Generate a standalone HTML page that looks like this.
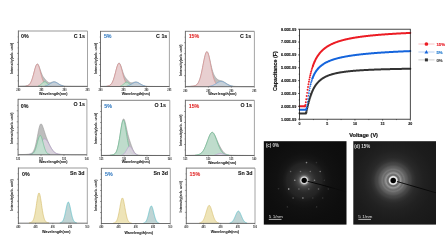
<!DOCTYPE html>
<html><head><meta charset="utf-8"><title>Figure</title>
<style>html,body{margin:0;padding:0;background:#fff;width:448px;height:252px;overflow:hidden}
svg{display:block;font-family:'Liberation Sans', Arial, sans-serif}</style></head>
<body><svg width="448" height="252" viewBox="0 0 448 252">
<rect width="448" height="252" fill="#fff"/>
<polygon points="18.90,86.4 18.90,86.23 19.47,86.22 20.04,86.20 20.62,86.19 21.19,86.18 21.76,86.16 22.33,86.15 22.91,86.13 23.48,86.10 24.05,86.08 24.62,86.04 25.19,86.00 25.77,85.94 26.34,85.86 26.91,85.75 27.48,85.59 28.06,85.36 28.63,85.03 29.20,84.59 29.77,83.98 30.35,83.18 30.92,82.15 31.49,80.88 32.06,79.34 32.63,77.55 33.21,75.54 33.78,73.39 34.35,71.18 34.92,69.03 35.50,67.10 36.07,65.51 36.64,64.42 37.21,63.92 37.78,64.05 38.36,64.76 38.93,65.96 39.50,67.50 40.07,69.22 40.65,70.96 41.22,72.61 41.79,74.09 42.36,75.35 42.94,76.41 43.51,77.28 44.08,78.04 44.65,78.74 45.22,79.41 45.80,80.07 46.37,80.71 46.94,81.30 47.51,81.81 48.09,82.22 48.66,82.50 49.23,82.65 49.80,82.69 50.37,82.63 50.95,82.49 51.52,82.31 52.09,82.11 52.66,81.94 53.24,81.81 53.81,81.74 54.38,81.75 54.95,81.85 55.53,82.02 56.10,82.27 56.67,82.57 57.24,82.91 57.81,83.28 58.39,83.65 58.96,84.01 59.53,84.36 60.10,84.68 60.68,84.97 61.25,85.22 61.82,85.43 62.39,85.62 62.96,85.76 63.54,85.88 64.11,85.98 64.68,86.05 65.25,86.11 65.83,86.15 66.40,86.19 66.97,86.21 67.54,86.23 68.12,86.25 68.69,86.26 69.26,86.27 69.83,86.28 70.40,86.29 70.98,86.29 71.55,86.30 72.12,86.30 72.69,86.31 73.27,86.31 73.84,86.31 74.41,86.32 74.98,86.32 75.55,86.32 76.13,86.33 76.70,86.33 77.27,86.33 77.84,86.33 78.42,86.34 78.99,86.34 79.56,86.34 80.13,86.34 80.71,86.34 81.28,86.35 81.85,86.35 82.42,86.35 82.99,86.35 83.57,86.35 84.14,86.35 84.71,86.36 85.28,86.36 85.86,86.36 86.43,86.36 87.00,86.36 87.00,86.4" fill="#bdbdbd"/>
<polyline points="18.90,86.23 19.47,86.22 20.04,86.20 20.62,86.19 21.19,86.18 21.76,86.16 22.33,86.15 22.91,86.13 23.48,86.10 24.05,86.08 24.62,86.04 25.19,86.00 25.77,85.94 26.34,85.86 26.91,85.75 27.48,85.59 28.06,85.36 28.63,85.03 29.20,84.59 29.77,83.98 30.35,83.18 30.92,82.15 31.49,80.88 32.06,79.34 32.63,77.55 33.21,75.54 33.78,73.39 34.35,71.18 34.92,69.03 35.50,67.10 36.07,65.51 36.64,64.42 37.21,63.92 37.78,64.05 38.36,64.76 38.93,65.96 39.50,67.50 40.07,69.22 40.65,70.96 41.22,72.61 41.79,74.09 42.36,75.35 42.94,76.41 43.51,77.28 44.08,78.04 44.65,78.74 45.22,79.41 45.80,80.07 46.37,80.71 46.94,81.30 47.51,81.81 48.09,82.22 48.66,82.50 49.23,82.65 49.80,82.69 50.37,82.63 50.95,82.49 51.52,82.31 52.09,82.11 52.66,81.94 53.24,81.81 53.81,81.74 54.38,81.75 54.95,81.85 55.53,82.02 56.10,82.27 56.67,82.57 57.24,82.91 57.81,83.28 58.39,83.65 58.96,84.01 59.53,84.36 60.10,84.68 60.68,84.97 61.25,85.22 61.82,85.43 62.39,85.62 62.96,85.76 63.54,85.88 64.11,85.98 64.68,86.05 65.25,86.11 65.83,86.15 66.40,86.19 66.97,86.21 67.54,86.23 68.12,86.25 68.69,86.26 69.26,86.27 69.83,86.28 70.40,86.29 70.98,86.29 71.55,86.30 72.12,86.30 72.69,86.31 73.27,86.31 73.84,86.31 74.41,86.32 74.98,86.32 75.55,86.32 76.13,86.33 76.70,86.33 77.27,86.33 77.84,86.33 78.42,86.34 78.99,86.34 79.56,86.34 80.13,86.34 80.71,86.34 81.28,86.35 81.85,86.35 82.42,86.35 82.99,86.35 83.57,86.35 84.14,86.35 84.71,86.36 85.28,86.36 85.86,86.36 86.43,86.36 87.00,86.36" fill="none" stroke="#9a9a9a" stroke-width="0.6"/>
<polygon points="25.60,86.4 25.60,86.00 25.90,85.97 26.20,85.93 26.49,85.88 26.79,85.82 27.09,85.75 27.38,85.67 27.68,85.56 27.97,85.44 28.27,85.30 28.57,85.13 28.86,84.92 29.16,84.68 29.45,84.40 29.75,84.07 30.05,83.68 30.34,83.25 30.64,82.75 30.93,82.19 31.23,81.56 31.53,80.86 31.82,80.09 32.12,79.25 32.41,78.34 32.71,77.37 33.01,76.35 33.30,75.28 33.60,74.17 33.90,73.04 34.19,71.90 34.49,70.77 34.78,69.66 35.08,68.61 35.38,67.62 35.67,66.72 35.97,65.93 36.26,65.27 36.56,64.75 36.86,64.40 37.15,64.22 37.45,64.22 37.74,64.40 38.04,64.75 38.34,65.27 38.63,65.93 38.93,66.72 39.22,67.62 39.52,68.61 39.82,69.66 40.11,70.77 40.41,71.90 40.70,73.04 41.00,74.17 41.30,75.28 41.59,76.35 41.89,77.37 42.19,78.34 42.48,79.25 42.78,80.09 43.07,80.86 43.37,81.56 43.67,82.19 43.96,82.75 44.26,83.25 44.55,83.68 44.85,84.07 45.15,84.40 45.44,84.68 45.74,84.92 46.03,85.13 46.33,85.30 46.63,85.44 46.92,85.56 47.22,85.67 47.51,85.75 47.81,85.82 48.11,85.88 48.40,85.93 48.70,85.97 49.00,86.00 49.00,86.4" fill="#f0d2d3" fill-opacity="0.85"/>
<polyline points="25.60,86.00 25.90,85.97 26.20,85.93 26.49,85.88 26.79,85.82 27.09,85.75 27.38,85.67 27.68,85.56 27.97,85.44 28.27,85.30 28.57,85.13 28.86,84.92 29.16,84.68 29.45,84.40 29.75,84.07 30.05,83.68 30.34,83.25 30.64,82.75 30.93,82.19 31.23,81.56 31.53,80.86 31.82,80.09 32.12,79.25 32.41,78.34 32.71,77.37 33.01,76.35 33.30,75.28 33.60,74.17 33.90,73.04 34.19,71.90 34.49,70.77 34.78,69.66 35.08,68.61 35.38,67.62 35.67,66.72 35.97,65.93 36.26,65.27 36.56,64.75 36.86,64.40 37.15,64.22 37.45,64.22 37.74,64.40 38.04,64.75 38.34,65.27 38.63,65.93 38.93,66.72 39.22,67.62 39.52,68.61 39.82,69.66 40.11,70.77 40.41,71.90 40.70,73.04 41.00,74.17 41.30,75.28 41.59,76.35 41.89,77.37 42.19,78.34 42.48,79.25 42.78,80.09 43.07,80.86 43.37,81.56 43.67,82.19 43.96,82.75 44.26,83.25 44.55,83.68 44.85,84.07 45.15,84.40 45.44,84.68 45.74,84.92 46.03,85.13 46.33,85.30 46.63,85.44 46.92,85.56 47.22,85.67 47.51,85.75 47.81,85.82 48.11,85.88 48.40,85.93 48.70,85.97 49.00,86.00" fill="none" stroke="#d98c8c" stroke-width="0.7"/>
<polygon points="38.06,86.4 38.06,86.00 38.23,85.95 38.39,85.90 38.56,85.85 38.72,85.79 38.89,85.72 39.05,85.65 39.22,85.58 39.39,85.49 39.55,85.40 39.72,85.31 39.88,85.20 40.05,85.09 40.21,84.97 40.38,84.85 40.54,84.72 40.71,84.58 40.88,84.44 41.04,84.29 41.21,84.14 41.37,83.98 41.54,83.82 41.70,83.66 41.87,83.50 42.03,83.34 42.20,83.17 42.37,83.01 42.53,82.85 42.70,82.70 42.86,82.55 43.03,82.41 43.19,82.28 43.36,82.16 43.52,82.05 43.69,81.96 43.86,81.87 44.02,81.81 44.19,81.75 44.35,81.72 44.52,81.70 44.68,81.70 44.85,81.72 45.01,81.75 45.18,81.81 45.34,81.87 45.51,81.96 45.68,82.05 45.84,82.16 46.01,82.28 46.17,82.41 46.34,82.55 46.50,82.70 46.67,82.85 46.83,83.01 47.00,83.17 47.17,83.34 47.33,83.50 47.50,83.66 47.66,83.82 47.83,83.98 47.99,84.14 48.16,84.29 48.32,84.44 48.49,84.58 48.66,84.72 48.82,84.85 48.99,84.97 49.15,85.09 49.32,85.20 49.48,85.31 49.65,85.40 49.81,85.49 49.98,85.58 50.15,85.65 50.31,85.72 50.48,85.79 50.64,85.85 50.81,85.90 50.97,85.95 51.14,86.00 51.14,86.4" fill="#c0e2cf" fill-opacity="0.85"/>
<polyline points="38.06,86.00 38.23,85.95 38.39,85.90 38.56,85.85 38.72,85.79 38.89,85.72 39.05,85.65 39.22,85.58 39.39,85.49 39.55,85.40 39.72,85.31 39.88,85.20 40.05,85.09 40.21,84.97 40.38,84.85 40.54,84.72 40.71,84.58 40.88,84.44 41.04,84.29 41.21,84.14 41.37,83.98 41.54,83.82 41.70,83.66 41.87,83.50 42.03,83.34 42.20,83.17 42.37,83.01 42.53,82.85 42.70,82.70 42.86,82.55 43.03,82.41 43.19,82.28 43.36,82.16 43.52,82.05 43.69,81.96 43.86,81.87 44.02,81.81 44.19,81.75 44.35,81.72 44.52,81.70 44.68,81.70 44.85,81.72 45.01,81.75 45.18,81.81 45.34,81.87 45.51,81.96 45.68,82.05 45.84,82.16 46.01,82.28 46.17,82.41 46.34,82.55 46.50,82.70 46.67,82.85 46.83,83.01 47.00,83.17 47.17,83.34 47.33,83.50 47.50,83.66 47.66,83.82 47.83,83.98 47.99,84.14 48.16,84.29 48.32,84.44 48.49,84.58 48.66,84.72 48.82,84.85 48.99,84.97 49.15,85.09 49.32,85.20 49.48,85.31 49.65,85.40 49.81,85.49 49.98,85.58 50.15,85.65 50.31,85.72 50.48,85.79 50.64,85.85 50.81,85.90 50.97,85.95 51.14,86.00" fill="none" stroke="#6cbf92" stroke-width="0.7"/>
<polygon points="44.77,86.4 44.77,86.00 45.01,85.95 45.25,85.91 45.49,85.85 45.73,85.80 45.97,85.73 46.21,85.66 46.44,85.59 46.68,85.51 46.92,85.42 47.16,85.33 47.40,85.23 47.64,85.13 47.88,85.02 48.11,84.90 48.35,84.78 48.59,84.65 48.83,84.52 49.07,84.38 49.31,84.24 49.55,84.09 49.79,83.95 50.02,83.80 50.26,83.65 50.50,83.49 50.74,83.34 50.98,83.20 51.22,83.05 51.46,82.91 51.69,82.78 51.93,82.65 52.17,82.53 52.41,82.42 52.65,82.32 52.89,82.23 53.13,82.16 53.36,82.10 53.60,82.05 53.84,82.02 54.08,82.00 54.32,82.00 54.56,82.02 54.80,82.05 55.04,82.10 55.27,82.16 55.51,82.23 55.75,82.32 55.99,82.42 56.23,82.53 56.47,82.65 56.71,82.78 56.94,82.91 57.18,83.05 57.42,83.20 57.66,83.34 57.90,83.49 58.14,83.65 58.38,83.80 58.61,83.95 58.85,84.09 59.09,84.24 59.33,84.38 59.57,84.52 59.81,84.65 60.05,84.78 60.29,84.90 60.52,85.02 60.76,85.13 61.00,85.23 61.24,85.33 61.48,85.42 61.72,85.51 61.96,85.59 62.19,85.66 62.43,85.73 62.67,85.80 62.91,85.85 63.15,85.91 63.39,85.95 63.63,86.00 63.63,86.4" fill="#c9d3dd" fill-opacity="0.85"/>
<polyline points="44.77,86.00 45.01,85.95 45.25,85.91 45.49,85.85 45.73,85.80 45.97,85.73 46.21,85.66 46.44,85.59 46.68,85.51 46.92,85.42 47.16,85.33 47.40,85.23 47.64,85.13 47.88,85.02 48.11,84.90 48.35,84.78 48.59,84.65 48.83,84.52 49.07,84.38 49.31,84.24 49.55,84.09 49.79,83.95 50.02,83.80 50.26,83.65 50.50,83.49 50.74,83.34 50.98,83.20 51.22,83.05 51.46,82.91 51.69,82.78 51.93,82.65 52.17,82.53 52.41,82.42 52.65,82.32 52.89,82.23 53.13,82.16 53.36,82.10 53.60,82.05 53.84,82.02 54.08,82.00 54.32,82.00 54.56,82.02 54.80,82.05 55.04,82.10 55.27,82.16 55.51,82.23 55.75,82.32 55.99,82.42 56.23,82.53 56.47,82.65 56.71,82.78 56.94,82.91 57.18,83.05 57.42,83.20 57.66,83.34 57.90,83.49 58.14,83.65 58.38,83.80 58.61,83.95 58.85,84.09 59.09,84.24 59.33,84.38 59.57,84.52 59.81,84.65 60.05,84.78 60.29,84.90 60.52,85.02 60.76,85.13 61.00,85.23 61.24,85.33 61.48,85.42 61.72,85.51 61.96,85.59 62.19,85.66 62.43,85.73 62.67,85.80 62.91,85.85 63.15,85.91 63.39,85.95 63.63,86.00" fill="none" stroke="#6a9fd0" stroke-width="0.7"/>
<line x1="18.4" y1="31.0" x2="87.5" y2="31.0" stroke="#9a9a9a" stroke-width="1.2"/>
<line x1="87.5" y1="31.0" x2="87.5" y2="86.4" stroke="#9a9a9a" stroke-width="0.9"/>
<line x1="18.4" y1="30.5" x2="18.4" y2="87.2" stroke="#555" stroke-width="0.85"/>
<line x1="18.4" y1="86.4" x2="87.5" y2="86.4" stroke="#555" stroke-width="0.85"/>
<line x1="17.60" y1="80.90" x2="18.4" y2="80.90" stroke="#555" stroke-width="0.55"/>
<line x1="17.00" y1="75.40" x2="18.4" y2="75.40" stroke="#555" stroke-width="0.55"/>
<line x1="17.60" y1="69.90" x2="18.4" y2="69.90" stroke="#555" stroke-width="0.55"/>
<line x1="17.00" y1="64.40" x2="18.4" y2="64.40" stroke="#555" stroke-width="0.55"/>
<line x1="17.60" y1="58.90" x2="18.4" y2="58.90" stroke="#555" stroke-width="0.55"/>
<line x1="17.00" y1="53.40" x2="18.4" y2="53.40" stroke="#555" stroke-width="0.55"/>
<line x1="17.60" y1="47.90" x2="18.4" y2="47.90" stroke="#555" stroke-width="0.55"/>
<line x1="17.00" y1="42.40" x2="18.4" y2="42.40" stroke="#555" stroke-width="0.55"/>
<line x1="17.60" y1="36.90" x2="18.4" y2="36.90" stroke="#555" stroke-width="0.55"/>
<line x1="18.40" y1="86.4" x2="18.40" y2="87.4" stroke="#444" stroke-width="0.5"/>
<text x="16.35" y="91.20" font-size="2.9" font-weight="bold" fill="#3a3a3a" textLength="4.1" lengthAdjust="spacingAndGlyphs">280</text>
<line x1="41.43" y1="86.4" x2="41.43" y2="87.4" stroke="#444" stroke-width="0.5"/>
<text x="39.38" y="91.20" font-size="2.9" font-weight="bold" fill="#3a3a3a" textLength="4.1" lengthAdjust="spacingAndGlyphs">285</text>
<line x1="64.47" y1="86.4" x2="64.47" y2="87.4" stroke="#444" stroke-width="0.5"/>
<text x="62.42" y="91.20" font-size="2.9" font-weight="bold" fill="#3a3a3a" textLength="4.1" lengthAdjust="spacingAndGlyphs">290</text>
<line x1="87.50" y1="86.4" x2="87.50" y2="87.4" stroke="#444" stroke-width="0.5"/>
<text x="85.45" y="91.20" font-size="2.9" font-weight="bold" fill="#3a3a3a" textLength="4.1" lengthAdjust="spacingAndGlyphs">295</text>
<text x="53.30" y="95.06" font-size="3.65" font-weight="bold" text-anchor="middle" fill="#1a1a1a" stroke="#1a1a1a" stroke-width="0.06" textLength="28.4" lengthAdjust="spacingAndGlyphs">Wavelength(nm)</text>
<text transform="translate(12.70,58.40) rotate(-90)" font-size="3.7" font-weight="bold" text-anchor="middle" fill="#262626" stroke="#262626" stroke-width="0.05" textLength="31.4" lengthAdjust="spacingAndGlyphs">Intensity(arb. unit)</text>
<text x="21.00" y="37.80" font-size="5.3" font-weight="bold" fill="#111" stroke="#111" stroke-width="0.06">0%</text>
<text x="85.00" y="37.80" font-size="5.3" font-weight="bold" text-anchor="end" fill="#111" stroke="#111" stroke-width="0.08">C 1s</text>
<polygon points="101.00,86.5 101.00,86.30 101.57,86.29 102.14,86.28 102.71,86.26 103.28,86.25 103.85,86.23 104.42,86.21 104.99,86.19 105.56,86.16 106.14,86.12 106.71,86.07 107.28,86.01 107.85,85.92 108.42,85.80 108.99,85.62 109.56,85.38 110.13,85.04 110.70,84.58 111.27,83.96 111.84,83.14 112.41,82.11 112.98,80.83 113.55,79.29 114.12,77.51 114.69,75.51 115.26,73.35 115.84,71.12 116.41,68.92 116.98,66.89 117.55,65.18 118.12,63.90 118.69,63.19 119.26,63.09 119.83,63.61 120.40,64.66 120.97,66.12 121.54,67.85 122.11,69.68 122.68,71.49 123.25,73.17 123.82,74.66 124.39,75.92 124.96,76.96 125.54,77.82 126.11,78.56 126.68,79.23 127.25,79.87 127.82,80.49 128.39,81.08 128.96,81.61 129.53,82.07 130.10,82.42 130.67,82.65 131.24,82.77 131.81,82.78 132.38,82.70 132.95,82.56 133.52,82.39 134.09,82.21 134.66,82.06 135.24,81.95 135.81,81.92 136.38,81.96 136.95,82.08 137.52,82.28 138.09,82.54 138.66,82.85 139.23,83.19 139.80,83.55 140.37,83.92 140.94,84.27 141.51,84.60 142.08,84.90 142.65,85.17 143.22,85.40 143.79,85.60 144.36,85.77 144.94,85.91 145.51,86.02 146.08,86.10 146.65,86.17 147.22,86.22 147.79,86.26 148.36,86.29 148.93,86.32 149.50,86.34 150.07,86.35 150.64,86.36 151.21,86.37 151.78,86.38 152.35,86.38 152.92,86.39 153.49,86.40 154.06,86.40 154.64,86.40 155.21,86.41 155.78,86.41 156.35,86.42 156.92,86.42 157.49,86.42 158.06,86.43 158.63,86.43 159.20,86.43 159.77,86.43 160.34,86.44 160.91,86.44 161.48,86.44 162.05,86.44 162.62,86.44 163.19,86.45 163.76,86.45 164.34,86.45 164.91,86.45 165.48,86.45 166.05,86.45 166.62,86.45 167.19,86.46 167.76,86.46 168.33,86.46 168.90,86.46 168.90,86.5" fill="#bdbdbd"/>
<polyline points="101.00,86.30 101.57,86.29 102.14,86.28 102.71,86.26 103.28,86.25 103.85,86.23 104.42,86.21 104.99,86.19 105.56,86.16 106.14,86.12 106.71,86.07 107.28,86.01 107.85,85.92 108.42,85.80 108.99,85.62 109.56,85.38 110.13,85.04 110.70,84.58 111.27,83.96 111.84,83.14 112.41,82.11 112.98,80.83 113.55,79.29 114.12,77.51 114.69,75.51 115.26,73.35 115.84,71.12 116.41,68.92 116.98,66.89 117.55,65.18 118.12,63.90 118.69,63.19 119.26,63.09 119.83,63.61 120.40,64.66 120.97,66.12 121.54,67.85 122.11,69.68 122.68,71.49 123.25,73.17 123.82,74.66 124.39,75.92 124.96,76.96 125.54,77.82 126.11,78.56 126.68,79.23 127.25,79.87 127.82,80.49 128.39,81.08 128.96,81.61 129.53,82.07 130.10,82.42 130.67,82.65 131.24,82.77 131.81,82.78 132.38,82.70 132.95,82.56 133.52,82.39 134.09,82.21 134.66,82.06 135.24,81.95 135.81,81.92 136.38,81.96 136.95,82.08 137.52,82.28 138.09,82.54 138.66,82.85 139.23,83.19 139.80,83.55 140.37,83.92 140.94,84.27 141.51,84.60 142.08,84.90 142.65,85.17 143.22,85.40 143.79,85.60 144.36,85.77 144.94,85.91 145.51,86.02 146.08,86.10 146.65,86.17 147.22,86.22 147.79,86.26 148.36,86.29 148.93,86.32 149.50,86.34 150.07,86.35 150.64,86.36 151.21,86.37 151.78,86.38 152.35,86.38 152.92,86.39 153.49,86.40 154.06,86.40 154.64,86.40 155.21,86.41 155.78,86.41 156.35,86.42 156.92,86.42 157.49,86.42 158.06,86.43 158.63,86.43 159.20,86.43 159.77,86.43 160.34,86.44 160.91,86.44 161.48,86.44 162.05,86.44 162.62,86.44 163.19,86.45 163.76,86.45 164.34,86.45 164.91,86.45 165.48,86.45 166.05,86.45 166.62,86.45 167.19,86.46 167.76,86.46 168.33,86.46 168.90,86.46" fill="none" stroke="#9a9a9a" stroke-width="0.6"/>
<polygon points="106.79,86.5 106.79,86.10 107.10,86.07 107.41,86.03 107.72,85.98 108.03,85.92 108.34,85.86 108.65,85.78 108.96,85.68 109.27,85.56 109.57,85.42 109.88,85.25 110.19,85.04 110.50,84.80 110.81,84.52 111.12,84.19 111.43,83.80 111.74,83.36 112.05,82.85 112.36,82.28 112.66,81.63 112.97,80.91 113.28,80.12 113.59,79.25 113.90,78.30 114.21,77.29 114.52,76.22 114.83,75.09 115.14,73.92 115.45,72.73 115.76,71.52 116.06,70.32 116.37,69.15 116.68,68.02 116.99,66.96 117.30,66.00 117.61,65.15 117.92,64.44 118.23,63.89 118.54,63.52 118.85,63.32 119.15,63.32 119.46,63.52 119.77,63.89 120.08,64.44 120.39,65.15 120.70,66.00 121.01,66.96 121.32,68.02 121.63,69.15 121.94,70.32 122.24,71.52 122.55,72.73 122.86,73.92 123.17,75.09 123.48,76.22 123.79,77.29 124.10,78.30 124.41,79.25 124.72,80.12 125.03,80.91 125.34,81.63 125.64,82.28 125.95,82.85 126.26,83.36 126.57,83.80 126.88,84.19 127.19,84.52 127.50,84.80 127.81,85.04 128.12,85.25 128.43,85.42 128.73,85.56 129.04,85.68 129.35,85.78 129.66,85.86 129.97,85.92 130.28,85.98 130.59,86.03 130.90,86.07 131.21,86.10 131.21,86.5" fill="#f0d2d3" fill-opacity="0.85"/>
<polyline points="106.79,86.10 107.10,86.07 107.41,86.03 107.72,85.98 108.03,85.92 108.34,85.86 108.65,85.78 108.96,85.68 109.27,85.56 109.57,85.42 109.88,85.25 110.19,85.04 110.50,84.80 110.81,84.52 111.12,84.19 111.43,83.80 111.74,83.36 112.05,82.85 112.36,82.28 112.66,81.63 112.97,80.91 113.28,80.12 113.59,79.25 113.90,78.30 114.21,77.29 114.52,76.22 114.83,75.09 115.14,73.92 115.45,72.73 115.76,71.52 116.06,70.32 116.37,69.15 116.68,68.02 116.99,66.96 117.30,66.00 117.61,65.15 117.92,64.44 118.23,63.89 118.54,63.52 118.85,63.32 119.15,63.32 119.46,63.52 119.77,63.89 120.08,64.44 120.39,65.15 120.70,66.00 121.01,66.96 121.32,68.02 121.63,69.15 121.94,70.32 122.24,71.52 122.55,72.73 122.86,73.92 123.17,75.09 123.48,76.22 123.79,77.29 124.10,78.30 124.41,79.25 124.72,80.12 125.03,80.91 125.34,81.63 125.64,82.28 125.95,82.85 126.26,83.36 126.57,83.80 126.88,84.19 127.19,84.52 127.50,84.80 127.81,85.04 128.12,85.25 128.43,85.42 128.73,85.56 129.04,85.68 129.35,85.78 129.66,85.86 129.97,85.92 130.28,85.98 130.59,86.03 130.90,86.07 131.21,86.10" fill="none" stroke="#d98c8c" stroke-width="0.7"/>
<polygon points="120.20,86.5 120.20,86.10 120.36,86.05 120.52,86.01 120.68,85.96 120.84,85.90 121.01,85.84 121.17,85.77 121.33,85.70 121.49,85.62 121.66,85.53 121.82,85.44 121.98,85.35 122.14,85.24 122.30,85.13 122.47,85.02 122.63,84.90 122.79,84.78 122.95,84.65 123.11,84.51 123.28,84.37 123.44,84.23 123.60,84.09 123.76,83.94 123.92,83.80 124.09,83.65 124.25,83.50 124.41,83.36 124.57,83.22 124.74,83.08 124.90,82.95 125.06,82.83 125.22,82.71 125.38,82.61 125.55,82.51 125.71,82.42 125.87,82.35 126.03,82.29 126.19,82.25 126.36,82.22 126.52,82.20 126.68,82.20 126.84,82.22 127.01,82.25 127.17,82.29 127.33,82.35 127.49,82.42 127.65,82.51 127.82,82.61 127.98,82.71 128.14,82.83 128.30,82.95 128.46,83.08 128.63,83.22 128.79,83.36 128.95,83.50 129.11,83.65 129.28,83.80 129.44,83.94 129.60,84.09 129.76,84.23 129.92,84.37 130.09,84.51 130.25,84.65 130.41,84.78 130.57,84.90 130.73,85.02 130.90,85.13 131.06,85.24 131.22,85.35 131.38,85.44 131.54,85.53 131.71,85.62 131.87,85.70 132.03,85.77 132.19,85.84 132.36,85.90 132.52,85.96 132.68,86.01 132.84,86.05 133.00,86.10 133.00,86.5" fill="#c0e2cf" fill-opacity="0.85"/>
<polyline points="120.20,86.10 120.36,86.05 120.52,86.01 120.68,85.96 120.84,85.90 121.01,85.84 121.17,85.77 121.33,85.70 121.49,85.62 121.66,85.53 121.82,85.44 121.98,85.35 122.14,85.24 122.30,85.13 122.47,85.02 122.63,84.90 122.79,84.78 122.95,84.65 123.11,84.51 123.28,84.37 123.44,84.23 123.60,84.09 123.76,83.94 123.92,83.80 124.09,83.65 124.25,83.50 124.41,83.36 124.57,83.22 124.74,83.08 124.90,82.95 125.06,82.83 125.22,82.71 125.38,82.61 125.55,82.51 125.71,82.42 125.87,82.35 126.03,82.29 126.19,82.25 126.36,82.22 126.52,82.20 126.68,82.20 126.84,82.22 127.01,82.25 127.17,82.29 127.33,82.35 127.49,82.42 127.65,82.51 127.82,82.61 127.98,82.71 128.14,82.83 128.30,82.95 128.46,83.08 128.63,83.22 128.79,83.36 128.95,83.50 129.11,83.65 129.28,83.80 129.44,83.94 129.60,84.09 129.76,84.23 129.92,84.37 130.09,84.51 130.25,84.65 130.41,84.78 130.57,84.90 130.73,85.02 130.90,85.13 131.06,85.24 131.22,85.35 131.38,85.44 131.54,85.53 131.71,85.62 131.87,85.70 132.03,85.77 132.19,85.84 132.36,85.90 132.52,85.96 132.68,86.01 132.84,86.05 133.00,86.10" fill="none" stroke="#6cbf92" stroke-width="0.7"/>
<polygon points="126.62,86.5 126.62,86.10 126.86,86.05 127.10,86.01 127.33,85.96 127.57,85.90 127.81,85.84 128.05,85.77 128.28,85.70 128.52,85.62 128.76,85.53 129.00,85.44 129.23,85.35 129.47,85.24 129.71,85.13 129.95,85.02 130.18,84.90 130.42,84.78 130.66,84.65 130.90,84.51 131.13,84.37 131.37,84.23 131.61,84.09 131.85,83.94 132.08,83.80 132.32,83.65 132.56,83.50 132.80,83.36 133.03,83.22 133.27,83.08 133.51,82.95 133.74,82.83 133.98,82.71 134.22,82.61 134.46,82.51 134.69,82.42 134.93,82.35 135.17,82.29 135.41,82.25 135.64,82.22 135.88,82.20 136.12,82.20 136.36,82.22 136.59,82.25 136.83,82.29 137.07,82.35 137.31,82.42 137.54,82.51 137.78,82.61 138.02,82.71 138.26,82.83 138.49,82.95 138.73,83.08 138.97,83.22 139.20,83.36 139.44,83.50 139.68,83.65 139.92,83.80 140.15,83.94 140.39,84.09 140.63,84.23 140.87,84.37 141.10,84.51 141.34,84.65 141.58,84.78 141.82,84.90 142.05,85.02 142.29,85.13 142.53,85.24 142.77,85.35 143.00,85.44 143.24,85.53 143.48,85.62 143.72,85.70 143.95,85.77 144.19,85.84 144.43,85.90 144.67,85.96 144.90,86.01 145.14,86.05 145.38,86.10 145.38,86.5" fill="#c9d3dd" fill-opacity="0.85"/>
<polyline points="126.62,86.10 126.86,86.05 127.10,86.01 127.33,85.96 127.57,85.90 127.81,85.84 128.05,85.77 128.28,85.70 128.52,85.62 128.76,85.53 129.00,85.44 129.23,85.35 129.47,85.24 129.71,85.13 129.95,85.02 130.18,84.90 130.42,84.78 130.66,84.65 130.90,84.51 131.13,84.37 131.37,84.23 131.61,84.09 131.85,83.94 132.08,83.80 132.32,83.65 132.56,83.50 132.80,83.36 133.03,83.22 133.27,83.08 133.51,82.95 133.74,82.83 133.98,82.71 134.22,82.61 134.46,82.51 134.69,82.42 134.93,82.35 135.17,82.29 135.41,82.25 135.64,82.22 135.88,82.20 136.12,82.20 136.36,82.22 136.59,82.25 136.83,82.29 137.07,82.35 137.31,82.42 137.54,82.51 137.78,82.61 138.02,82.71 138.26,82.83 138.49,82.95 138.73,83.08 138.97,83.22 139.20,83.36 139.44,83.50 139.68,83.65 139.92,83.80 140.15,83.94 140.39,84.09 140.63,84.23 140.87,84.37 141.10,84.51 141.34,84.65 141.58,84.78 141.82,84.90 142.05,85.02 142.29,85.13 142.53,85.24 142.77,85.35 143.00,85.44 143.24,85.53 143.48,85.62 143.72,85.70 143.95,85.77 144.19,85.84 144.43,85.90 144.67,85.96 144.90,86.01 145.14,86.05 145.38,86.10" fill="none" stroke="#6a9fd0" stroke-width="0.7"/>
<line x1="100.5" y1="31.4" x2="169.4" y2="31.4" stroke="#9a9a9a" stroke-width="1.2"/>
<line x1="169.4" y1="31.4" x2="169.4" y2="86.5" stroke="#9a9a9a" stroke-width="0.9"/>
<line x1="100.5" y1="30.9" x2="100.5" y2="87.3" stroke="#555" stroke-width="0.85"/>
<line x1="100.5" y1="86.5" x2="169.4" y2="86.5" stroke="#555" stroke-width="0.85"/>
<line x1="99.70" y1="81.00" x2="100.5" y2="81.00" stroke="#555" stroke-width="0.55"/>
<line x1="99.10" y1="75.50" x2="100.5" y2="75.50" stroke="#555" stroke-width="0.55"/>
<line x1="99.70" y1="70.00" x2="100.5" y2="70.00" stroke="#555" stroke-width="0.55"/>
<line x1="99.10" y1="64.50" x2="100.5" y2="64.50" stroke="#555" stroke-width="0.55"/>
<line x1="99.70" y1="59.00" x2="100.5" y2="59.00" stroke="#555" stroke-width="0.55"/>
<line x1="99.10" y1="53.50" x2="100.5" y2="53.50" stroke="#555" stroke-width="0.55"/>
<line x1="99.70" y1="48.00" x2="100.5" y2="48.00" stroke="#555" stroke-width="0.55"/>
<line x1="99.10" y1="42.50" x2="100.5" y2="42.50" stroke="#555" stroke-width="0.55"/>
<line x1="99.70" y1="37.00" x2="100.5" y2="37.00" stroke="#555" stroke-width="0.55"/>
<line x1="100.50" y1="86.5" x2="100.50" y2="87.5" stroke="#444" stroke-width="0.5"/>
<text x="98.45" y="91.30" font-size="2.9" font-weight="bold" fill="#3a3a3a" textLength="4.1" lengthAdjust="spacingAndGlyphs">280</text>
<line x1="123.47" y1="86.5" x2="123.47" y2="87.5" stroke="#444" stroke-width="0.5"/>
<text x="121.42" y="91.30" font-size="2.9" font-weight="bold" fill="#3a3a3a" textLength="4.1" lengthAdjust="spacingAndGlyphs">285</text>
<line x1="146.43" y1="86.5" x2="146.43" y2="87.5" stroke="#444" stroke-width="0.5"/>
<text x="144.38" y="91.30" font-size="2.9" font-weight="bold" fill="#3a3a3a" textLength="4.1" lengthAdjust="spacingAndGlyphs">290</text>
<line x1="169.40" y1="86.5" x2="169.40" y2="87.5" stroke="#444" stroke-width="0.5"/>
<text x="167.35" y="91.30" font-size="2.9" font-weight="bold" fill="#3a3a3a" textLength="4.1" lengthAdjust="spacingAndGlyphs">295</text>
<text x="135.90" y="95.21" font-size="3.65" font-weight="bold" text-anchor="middle" fill="#1a1a1a" stroke="#1a1a1a" stroke-width="0.06" textLength="28.4" lengthAdjust="spacingAndGlyphs">Wavelength(nm)</text>
<text transform="translate(96.70,58.40) rotate(-90)" font-size="3.7" font-weight="bold" text-anchor="middle" fill="#262626" stroke="#262626" stroke-width="0.05" textLength="31.4" lengthAdjust="spacingAndGlyphs">Intensity(arb. unit)</text>
<text x="103.90" y="38.00" font-size="5.3" font-weight="bold" fill="#2f78c0" stroke="#2f78c0" stroke-width="0.06">5%</text>
<text x="167.30" y="38.00" font-size="5.3" font-weight="bold" text-anchor="end" fill="#111" stroke="#111" stroke-width="0.08">C 1s</text>
<polygon points="185.90,86.7 185.90,86.43 186.47,86.42 187.04,86.41 187.61,86.39 188.19,86.37 188.76,86.35 189.33,86.33 189.90,86.31 190.47,86.28 191.04,86.25 191.61,86.21 192.19,86.17 192.76,86.11 193.33,86.04 193.90,85.94 194.47,85.81 195.04,85.64 195.61,85.40 196.19,85.08 196.76,84.65 197.33,84.08 197.90,83.34 198.47,82.38 199.04,81.19 199.61,79.72 200.19,77.95 200.76,75.88 201.33,73.52 201.90,70.89 202.47,68.06 203.04,65.10 203.61,62.13 204.19,59.27 204.76,56.67 205.33,54.47 205.90,52.83 206.47,51.85 207.04,51.62 207.61,52.14 208.19,53.36 208.76,55.17 209.33,57.42 209.90,59.94 210.47,62.56 211.04,65.15 211.61,67.58 212.19,69.77 212.76,71.68 213.33,73.29 213.90,74.63 214.47,75.75 215.04,76.69 215.61,77.49 216.19,78.18 216.76,78.77 217.33,79.27 217.90,79.67 218.47,79.98 219.04,80.21 219.61,80.38 220.19,80.51 220.76,80.63 221.33,80.77 221.90,80.93 222.47,81.14 223.04,81.40 223.61,81.70 224.19,82.03 224.76,82.39 225.33,82.76 225.90,83.15 226.47,83.52 227.04,83.89 227.61,84.24 228.19,84.56 228.76,84.86 229.33,85.12 229.90,85.36 230.47,85.56 231.04,85.74 231.61,85.89 232.19,86.01 232.76,86.11 233.33,86.20 233.90,86.27 234.47,86.32 235.04,86.37 235.61,86.40 236.19,86.43 236.76,86.45 237.33,86.47 237.90,86.49 238.47,86.50 239.04,86.51 239.61,86.52 240.19,86.53 240.76,86.54 241.33,86.55 241.90,86.55 242.47,86.56 243.04,86.56 243.61,86.57 244.19,86.57 244.76,86.58 245.33,86.58 245.90,86.59 246.47,86.59 247.04,86.59 247.61,86.60 248.19,86.60 248.76,86.60 249.33,86.61 249.90,86.61 250.47,86.61 251.04,86.61 251.61,86.62 252.19,86.62 252.76,86.62 253.33,86.62 253.90,86.63 253.90,86.7" fill="#bdbdbd"/>
<polyline points="185.90,86.43 186.47,86.42 187.04,86.41 187.61,86.39 188.19,86.37 188.76,86.35 189.33,86.33 189.90,86.31 190.47,86.28 191.04,86.25 191.61,86.21 192.19,86.17 192.76,86.11 193.33,86.04 193.90,85.94 194.47,85.81 195.04,85.64 195.61,85.40 196.19,85.08 196.76,84.65 197.33,84.08 197.90,83.34 198.47,82.38 199.04,81.19 199.61,79.72 200.19,77.95 200.76,75.88 201.33,73.52 201.90,70.89 202.47,68.06 203.04,65.10 203.61,62.13 204.19,59.27 204.76,56.67 205.33,54.47 205.90,52.83 206.47,51.85 207.04,51.62 207.61,52.14 208.19,53.36 208.76,55.17 209.33,57.42 209.90,59.94 210.47,62.56 211.04,65.15 211.61,67.58 212.19,69.77 212.76,71.68 213.33,73.29 213.90,74.63 214.47,75.75 215.04,76.69 215.61,77.49 216.19,78.18 216.76,78.77 217.33,79.27 217.90,79.67 218.47,79.98 219.04,80.21 219.61,80.38 220.19,80.51 220.76,80.63 221.33,80.77 221.90,80.93 222.47,81.14 223.04,81.40 223.61,81.70 224.19,82.03 224.76,82.39 225.33,82.76 225.90,83.15 226.47,83.52 227.04,83.89 227.61,84.24 228.19,84.56 228.76,84.86 229.33,85.12 229.90,85.36 230.47,85.56 231.04,85.74 231.61,85.89 232.19,86.01 232.76,86.11 233.33,86.20 233.90,86.27 234.47,86.32 235.04,86.37 235.61,86.40 236.19,86.43 236.76,86.45 237.33,86.47 237.90,86.49 238.47,86.50 239.04,86.51 239.61,86.52 240.19,86.53 240.76,86.54 241.33,86.55 241.90,86.55 242.47,86.56 243.04,86.56 243.61,86.57 244.19,86.57 244.76,86.58 245.33,86.58 245.90,86.59 246.47,86.59 247.04,86.59 247.61,86.60 248.19,86.60 248.76,86.60 249.33,86.61 249.90,86.61 250.47,86.61 251.04,86.61 251.61,86.62 252.19,86.62 252.76,86.62 253.33,86.62 253.90,86.63" fill="none" stroke="#9a9a9a" stroke-width="0.6"/>
<polygon points="190.61,86.7 190.61,86.30 191.02,86.28 191.43,86.25 191.85,86.22 192.26,86.19 192.67,86.15 193.08,86.10 193.50,86.04 193.91,85.97 194.32,85.88 194.73,85.77 195.15,85.64 195.56,85.47 195.97,85.25 196.38,84.99 196.80,84.66 197.21,84.26 197.62,83.77 198.03,83.18 198.45,82.48 198.86,81.65 199.27,80.69 199.68,79.58 200.10,78.31 200.51,76.88 200.92,75.30 201.33,73.56 201.74,71.69 202.16,69.71 202.57,67.63 202.98,65.50 203.39,63.35 203.81,61.24 204.22,59.21 204.63,57.32 205.04,55.62 205.46,54.18 205.87,53.04 206.28,52.25 206.69,51.85 207.11,51.85 207.52,52.25 207.93,53.04 208.34,54.18 208.76,55.62 209.17,57.32 209.58,59.21 209.99,61.24 210.41,63.35 210.82,65.50 211.23,67.63 211.64,69.71 212.06,71.69 212.47,73.56 212.88,75.30 213.29,76.88 213.70,78.31 214.12,79.58 214.53,80.69 214.94,81.65 215.35,82.48 215.77,83.18 216.18,83.77 216.59,84.26 217.00,84.66 217.42,84.99 217.83,85.25 218.24,85.47 218.65,85.64 219.07,85.77 219.48,85.88 219.89,85.97 220.30,86.04 220.72,86.10 221.13,86.15 221.54,86.19 221.95,86.22 222.37,86.25 222.78,86.28 223.19,86.30 223.19,86.7" fill="#f0d2d3" fill-opacity="0.85"/>
<polyline points="190.61,86.30 191.02,86.28 191.43,86.25 191.85,86.22 192.26,86.19 192.67,86.15 193.08,86.10 193.50,86.04 193.91,85.97 194.32,85.88 194.73,85.77 195.15,85.64 195.56,85.47 195.97,85.25 196.38,84.99 196.80,84.66 197.21,84.26 197.62,83.77 198.03,83.18 198.45,82.48 198.86,81.65 199.27,80.69 199.68,79.58 200.10,78.31 200.51,76.88 200.92,75.30 201.33,73.56 201.74,71.69 202.16,69.71 202.57,67.63 202.98,65.50 203.39,63.35 203.81,61.24 204.22,59.21 204.63,57.32 205.04,55.62 205.46,54.18 205.87,53.04 206.28,52.25 206.69,51.85 207.11,51.85 207.52,52.25 207.93,53.04 208.34,54.18 208.76,55.62 209.17,57.32 209.58,59.21 209.99,61.24 210.41,63.35 210.82,65.50 211.23,67.63 211.64,69.71 212.06,71.69 212.47,73.56 212.88,75.30 213.29,76.88 213.70,78.31 214.12,79.58 214.53,80.69 214.94,81.65 215.35,82.48 215.77,83.18 216.18,83.77 216.59,84.26 217.00,84.66 217.42,84.99 217.83,85.25 218.24,85.47 218.65,85.64 219.07,85.77 219.48,85.88 219.89,85.97 220.30,86.04 220.72,86.10 221.13,86.15 221.54,86.19 221.95,86.22 222.37,86.25 222.78,86.28 223.19,86.30" fill="none" stroke="#d98c8c" stroke-width="0.7"/>
<polygon points="209.30,86.7 209.30,86.30 209.60,86.25 209.90,86.20 210.20,86.15 210.50,86.08 210.80,86.02 211.10,85.94 211.40,85.86 211.69,85.77 211.99,85.67 212.29,85.57 212.59,85.45 212.89,85.33 213.19,85.20 213.49,85.06 213.78,84.92 214.08,84.76 214.38,84.60 214.68,84.44 214.98,84.26 215.28,84.08 215.58,83.90 215.87,83.71 216.17,83.52 216.47,83.33 216.77,83.14 217.07,82.95 217.37,82.77 217.67,82.59 217.96,82.42 218.26,82.25 218.56,82.09 218.86,81.95 219.16,81.82 219.46,81.71 219.76,81.61 220.05,81.53 220.35,81.47 220.65,81.42 220.95,81.40 221.25,81.40 221.55,81.42 221.85,81.47 222.15,81.53 222.44,81.61 222.74,81.71 223.04,81.82 223.34,81.95 223.64,82.09 223.94,82.25 224.24,82.42 224.53,82.59 224.83,82.77 225.13,82.95 225.43,83.14 225.73,83.33 226.03,83.52 226.33,83.71 226.62,83.90 226.92,84.08 227.22,84.26 227.52,84.44 227.82,84.60 228.12,84.76 228.42,84.92 228.71,85.06 229.01,85.20 229.31,85.33 229.61,85.45 229.91,85.57 230.21,85.67 230.51,85.77 230.80,85.86 231.10,85.94 231.40,86.02 231.70,86.08 232.00,86.15 232.30,86.20 232.60,86.25 232.90,86.30 232.90,86.7" fill="#c9d3dd" fill-opacity="0.85"/>
<polyline points="209.30,86.30 209.60,86.25 209.90,86.20 210.20,86.15 210.50,86.08 210.80,86.02 211.10,85.94 211.40,85.86 211.69,85.77 211.99,85.67 212.29,85.57 212.59,85.45 212.89,85.33 213.19,85.20 213.49,85.06 213.78,84.92 214.08,84.76 214.38,84.60 214.68,84.44 214.98,84.26 215.28,84.08 215.58,83.90 215.87,83.71 216.17,83.52 216.47,83.33 216.77,83.14 217.07,82.95 217.37,82.77 217.67,82.59 217.96,82.42 218.26,82.25 218.56,82.09 218.86,81.95 219.16,81.82 219.46,81.71 219.76,81.61 220.05,81.53 220.35,81.47 220.65,81.42 220.95,81.40 221.25,81.40 221.55,81.42 221.85,81.47 222.15,81.53 222.44,81.61 222.74,81.71 223.04,81.82 223.34,81.95 223.64,82.09 223.94,82.25 224.24,82.42 224.53,82.59 224.83,82.77 225.13,82.95 225.43,83.14 225.73,83.33 226.03,83.52 226.33,83.71 226.62,83.90 226.92,84.08 227.22,84.26 227.52,84.44 227.82,84.60 228.12,84.76 228.42,84.92 228.71,85.06 229.01,85.20 229.31,85.33 229.61,85.45 229.91,85.57 230.21,85.67 230.51,85.77 230.80,85.86 231.10,85.94 231.40,86.02 231.70,86.08 232.00,86.15 232.30,86.20 232.60,86.25 232.90,86.30" fill="none" stroke="#6a9fd0" stroke-width="0.7"/>
<line x1="185.4" y1="31.4" x2="254.4" y2="31.4" stroke="#9a9a9a" stroke-width="1.2"/>
<line x1="254.4" y1="31.4" x2="254.4" y2="86.7" stroke="#9a9a9a" stroke-width="0.9"/>
<line x1="185.4" y1="30.9" x2="185.4" y2="87.5" stroke="#555" stroke-width="0.85"/>
<line x1="185.4" y1="86.7" x2="254.4" y2="86.7" stroke="#555" stroke-width="0.85"/>
<line x1="184.60" y1="81.20" x2="185.4" y2="81.20" stroke="#555" stroke-width="0.55"/>
<line x1="184.00" y1="75.70" x2="185.4" y2="75.70" stroke="#555" stroke-width="0.55"/>
<line x1="184.60" y1="70.20" x2="185.4" y2="70.20" stroke="#555" stroke-width="0.55"/>
<line x1="184.00" y1="64.70" x2="185.4" y2="64.70" stroke="#555" stroke-width="0.55"/>
<line x1="184.60" y1="59.20" x2="185.4" y2="59.20" stroke="#555" stroke-width="0.55"/>
<line x1="184.00" y1="53.70" x2="185.4" y2="53.70" stroke="#555" stroke-width="0.55"/>
<line x1="184.60" y1="48.20" x2="185.4" y2="48.20" stroke="#555" stroke-width="0.55"/>
<line x1="184.00" y1="42.70" x2="185.4" y2="42.70" stroke="#555" stroke-width="0.55"/>
<line x1="184.60" y1="37.20" x2="185.4" y2="37.20" stroke="#555" stroke-width="0.55"/>
<line x1="185.40" y1="86.7" x2="185.40" y2="87.7" stroke="#444" stroke-width="0.5"/>
<text x="183.35" y="91.50" font-size="2.9" font-weight="bold" fill="#3a3a3a" textLength="4.1" lengthAdjust="spacingAndGlyphs">280</text>
<line x1="208.40" y1="86.7" x2="208.40" y2="87.7" stroke="#444" stroke-width="0.5"/>
<text x="206.35" y="91.50" font-size="2.9" font-weight="bold" fill="#3a3a3a" textLength="4.1" lengthAdjust="spacingAndGlyphs">285</text>
<line x1="231.40" y1="86.7" x2="231.40" y2="87.7" stroke="#444" stroke-width="0.5"/>
<text x="229.35" y="91.50" font-size="2.9" font-weight="bold" fill="#3a3a3a" textLength="4.1" lengthAdjust="spacingAndGlyphs">290</text>
<line x1="254.40" y1="86.7" x2="254.40" y2="87.7" stroke="#444" stroke-width="0.5"/>
<text x="252.35" y="91.50" font-size="2.9" font-weight="bold" fill="#3a3a3a" textLength="4.1" lengthAdjust="spacingAndGlyphs">295</text>
<text x="222.40" y="95.21" font-size="3.65" font-weight="bold" text-anchor="middle" fill="#1a1a1a" stroke="#1a1a1a" stroke-width="0.06" textLength="28.4" lengthAdjust="spacingAndGlyphs">Wavelength(nm)</text>
<text transform="translate(181.70,60.30) rotate(-90)" font-size="3.7" font-weight="bold" text-anchor="middle" fill="#262626" stroke="#262626" stroke-width="0.05" textLength="31.4" lengthAdjust="spacingAndGlyphs">Intensity(arb. unit)</text>
<text x="188.65" y="37.50" font-size="5.3" font-weight="bold" fill="#e02424" stroke="#e02424" stroke-width="0.06">15%</text>
<text x="251.10" y="38.35" font-size="5.3" font-weight="bold" text-anchor="end" fill="#111" stroke="#111" stroke-width="0.08">C 1s</text>
<polygon points="18.60,154.8 18.60,154.61 19.17,154.60 19.74,154.59 20.31,154.58 20.88,154.57 21.45,154.55 22.02,154.54 22.59,154.53 23.16,154.51 23.73,154.49 24.30,154.47 24.87,154.45 25.44,154.43 26.01,154.40 26.58,154.36 27.15,154.32 27.72,154.27 28.29,154.21 28.86,154.13 29.43,154.03 29.99,153.90 30.56,153.72 31.13,153.48 31.70,153.15 32.27,152.69 32.84,152.07 33.41,151.23 33.98,150.13 34.55,148.71 35.12,146.94 35.69,144.79 36.26,142.29 36.83,139.49 37.40,136.50 37.97,133.45 38.54,130.53 39.11,127.94 39.68,125.88 40.25,124.52 40.82,123.91 41.39,124.03 41.96,124.78 42.53,126.00 43.10,127.53 43.67,129.25 44.24,131.04 44.81,132.82 45.38,134.54 45.95,136.18 46.52,137.73 47.09,139.20 47.66,140.60 48.23,141.93 48.80,143.21 49.37,144.44 49.94,145.61 50.51,146.71 51.08,147.75 51.65,148.70 52.22,149.58 52.78,150.36 53.35,151.06 53.92,151.66 54.49,152.19 55.06,152.63 55.63,153.00 56.20,153.31 56.77,153.56 57.34,153.77 57.91,153.93 58.48,154.07 59.05,154.17 59.62,154.25 60.19,154.32 60.76,154.37 61.33,154.41 61.90,154.45 62.47,154.48 63.04,154.50 63.61,154.52 64.18,154.54 64.75,154.55 65.32,154.56 65.89,154.58 66.46,154.59 67.03,154.60 67.60,154.61 68.17,154.62 68.74,154.62 69.31,154.63 69.88,154.64 70.45,154.64 71.02,154.65 71.59,154.66 72.16,154.66 72.73,154.67 73.30,154.67 73.87,154.68 74.44,154.68 75.01,154.68 75.57,154.69 76.14,154.69 76.71,154.70 77.28,154.70 77.85,154.70 78.42,154.71 78.99,154.71 79.56,154.71 80.13,154.71 80.70,154.72 81.27,154.72 81.84,154.72 82.41,154.72 82.98,154.73 83.55,154.73 84.12,154.73 84.69,154.73 85.26,154.73 85.83,154.74 86.40,154.74 86.40,154.8" fill="#bdbdbd"/>
<polyline points="18.60,154.61 19.17,154.60 19.74,154.59 20.31,154.58 20.88,154.57 21.45,154.55 22.02,154.54 22.59,154.53 23.16,154.51 23.73,154.49 24.30,154.47 24.87,154.45 25.44,154.43 26.01,154.40 26.58,154.36 27.15,154.32 27.72,154.27 28.29,154.21 28.86,154.13 29.43,154.03 29.99,153.90 30.56,153.72 31.13,153.48 31.70,153.15 32.27,152.69 32.84,152.07 33.41,151.23 33.98,150.13 34.55,148.71 35.12,146.94 35.69,144.79 36.26,142.29 36.83,139.49 37.40,136.50 37.97,133.45 38.54,130.53 39.11,127.94 39.68,125.88 40.25,124.52 40.82,123.91 41.39,124.03 41.96,124.78 42.53,126.00 43.10,127.53 43.67,129.25 44.24,131.04 44.81,132.82 45.38,134.54 45.95,136.18 46.52,137.73 47.09,139.20 47.66,140.60 48.23,141.93 48.80,143.21 49.37,144.44 49.94,145.61 50.51,146.71 51.08,147.75 51.65,148.70 52.22,149.58 52.78,150.36 53.35,151.06 53.92,151.66 54.49,152.19 55.06,152.63 55.63,153.00 56.20,153.31 56.77,153.56 57.34,153.77 57.91,153.93 58.48,154.07 59.05,154.17 59.62,154.25 60.19,154.32 60.76,154.37 61.33,154.41 61.90,154.45 62.47,154.48 63.04,154.50 63.61,154.52 64.18,154.54 64.75,154.55 65.32,154.56 65.89,154.58 66.46,154.59 67.03,154.60 67.60,154.61 68.17,154.62 68.74,154.62 69.31,154.63 69.88,154.64 70.45,154.64 71.02,154.65 71.59,154.66 72.16,154.66 72.73,154.67 73.30,154.67 73.87,154.68 74.44,154.68 75.01,154.68 75.57,154.69 76.14,154.69 76.71,154.70 77.28,154.70 77.85,154.70 78.42,154.71 78.99,154.71 79.56,154.71 80.13,154.71 80.70,154.72 81.27,154.72 81.84,154.72 82.41,154.72 82.98,154.73 83.55,154.73 84.12,154.73 84.69,154.73 85.26,154.73 85.83,154.74 86.40,154.74" fill="none" stroke="#9a9a9a" stroke-width="0.6"/>
<polygon points="28.92,154.8 28.92,154.40 29.32,154.35 29.71,154.30 30.11,154.24 30.50,154.17 30.89,154.09 31.29,153.99 31.68,153.88 32.08,153.75 32.47,153.59 32.87,153.41 33.26,153.21 33.65,152.97 34.05,152.70 34.44,152.40 34.84,152.07 35.23,151.69 35.63,151.27 36.02,150.82 36.42,150.32 36.81,149.78 37.20,149.20 37.60,148.58 37.99,147.93 38.39,147.25 38.78,146.55 39.18,145.82 39.57,145.09 39.96,144.35 40.36,143.61 40.75,142.90 41.15,142.20 41.54,141.55 41.94,140.94 42.33,140.40 42.73,139.92 43.12,139.53 43.51,139.23 43.91,139.02 44.30,138.91 44.70,138.91 45.09,139.02 45.49,139.23 45.88,139.53 46.27,139.92 46.67,140.40 47.06,140.94 47.46,141.55 47.85,142.20 48.25,142.90 48.64,143.61 49.04,144.35 49.43,145.09 49.82,145.82 50.22,146.55 50.61,147.25 51.01,147.93 51.40,148.58 51.80,149.20 52.19,149.78 52.58,150.32 52.98,150.82 53.37,151.27 53.77,151.69 54.16,152.07 54.56,152.40 54.95,152.70 55.35,152.97 55.74,153.21 56.13,153.41 56.53,153.59 56.92,153.75 57.32,153.88 57.71,153.99 58.11,154.09 58.50,154.17 58.89,154.24 59.29,154.30 59.68,154.35 60.08,154.40 60.08,154.8" fill="#dcd6e0" fill-opacity="0.85"/>
<polyline points="28.92,154.40 29.32,154.35 29.71,154.30 30.11,154.24 30.50,154.17 30.89,154.09 31.29,153.99 31.68,153.88 32.08,153.75 32.47,153.59 32.87,153.41 33.26,153.21 33.65,152.97 34.05,152.70 34.44,152.40 34.84,152.07 35.23,151.69 35.63,151.27 36.02,150.82 36.42,150.32 36.81,149.78 37.20,149.20 37.60,148.58 37.99,147.93 38.39,147.25 38.78,146.55 39.18,145.82 39.57,145.09 39.96,144.35 40.36,143.61 40.75,142.90 41.15,142.20 41.54,141.55 41.94,140.94 42.33,140.40 42.73,139.92 43.12,139.53 43.51,139.23 43.91,139.02 44.30,138.91 44.70,138.91 45.09,139.02 45.49,139.23 45.88,139.53 46.27,139.92 46.67,140.40 47.06,140.94 47.46,141.55 47.85,142.20 48.25,142.90 48.64,143.61 49.04,144.35 49.43,145.09 49.82,145.82 50.22,146.55 50.61,147.25 51.01,147.93 51.40,148.58 51.80,149.20 52.19,149.78 52.58,150.32 52.98,150.82 53.37,151.27 53.77,151.69 54.16,152.07 54.56,152.40 54.95,152.70 55.35,152.97 55.74,153.21 56.13,153.41 56.53,153.59 56.92,153.75 57.32,153.88 57.71,153.99 58.11,154.09 58.50,154.17 58.89,154.24 59.29,154.30 59.68,154.35 60.08,154.40" fill="none" stroke="#b9a0d0" stroke-width="0.7"/>
<polygon points="30.35,154.8 30.35,154.40 30.60,154.36 30.85,154.31 31.10,154.26 31.35,154.19 31.60,154.11 31.85,154.02 32.09,153.91 32.34,153.78 32.59,153.63 32.84,153.45 33.09,153.24 33.34,152.99 33.59,152.71 33.84,152.38 34.09,152.01 34.34,151.59 34.59,151.13 34.84,150.60 35.09,150.02 35.34,149.39 35.59,148.70 35.84,147.96 36.09,147.17 36.33,146.33 36.58,145.45 36.83,144.54 37.08,143.61 37.33,142.67 37.58,141.72 37.83,140.79 38.08,139.89 38.33,139.03 38.58,138.23 38.83,137.51 39.08,136.87 39.33,136.35 39.58,135.94 39.83,135.66 40.08,135.52 40.32,135.52 40.57,135.66 40.82,135.94 41.07,136.35 41.32,136.87 41.57,137.51 41.82,138.23 42.07,139.03 42.32,139.89 42.57,140.79 42.82,141.72 43.07,142.67 43.32,143.61 43.57,144.54 43.82,145.45 44.07,146.33 44.31,147.17 44.56,147.96 44.81,148.70 45.06,149.39 45.31,150.02 45.56,150.60 45.81,151.13 46.06,151.59 46.31,152.01 46.56,152.38 46.81,152.71 47.06,152.99 47.31,153.24 47.56,153.45 47.81,153.63 48.06,153.78 48.31,153.91 48.55,154.02 48.80,154.11 49.05,154.19 49.30,154.26 49.55,154.31 49.80,154.36 50.05,154.40 50.05,154.8" fill="#c0e2cf" fill-opacity="0.85"/>
<polyline points="30.35,154.40 30.60,154.36 30.85,154.31 31.10,154.26 31.35,154.19 31.60,154.11 31.85,154.02 32.09,153.91 32.34,153.78 32.59,153.63 32.84,153.45 33.09,153.24 33.34,152.99 33.59,152.71 33.84,152.38 34.09,152.01 34.34,151.59 34.59,151.13 34.84,150.60 35.09,150.02 35.34,149.39 35.59,148.70 35.84,147.96 36.09,147.17 36.33,146.33 36.58,145.45 36.83,144.54 37.08,143.61 37.33,142.67 37.58,141.72 37.83,140.79 38.08,139.89 38.33,139.03 38.58,138.23 38.83,137.51 39.08,136.87 39.33,136.35 39.58,135.94 39.83,135.66 40.08,135.52 40.32,135.52 40.57,135.66 40.82,135.94 41.07,136.35 41.32,136.87 41.57,137.51 41.82,138.23 42.07,139.03 42.32,139.89 42.57,140.79 42.82,141.72 43.07,142.67 43.32,143.61 43.57,144.54 43.82,145.45 44.07,146.33 44.31,147.17 44.56,147.96 44.81,148.70 45.06,149.39 45.31,150.02 45.56,150.60 45.81,151.13 46.06,151.59 46.31,152.01 46.56,152.38 46.81,152.71 47.06,152.99 47.31,153.24 47.56,153.45 47.81,153.63 48.06,153.78 48.31,153.91 48.55,154.02 48.80,154.11 49.05,154.19 49.30,154.26 49.55,154.31 49.80,154.36 50.05,154.40" fill="none" stroke="#6cbf92" stroke-width="0.7"/>
<line x1="18.1" y1="99.4" x2="86.9" y2="99.4" stroke="#9a9a9a" stroke-width="1.2"/>
<line x1="86.9" y1="99.4" x2="86.9" y2="154.8" stroke="#9a9a9a" stroke-width="0.9"/>
<line x1="18.1" y1="98.9" x2="18.1" y2="155.60000000000002" stroke="#555" stroke-width="0.85"/>
<line x1="18.1" y1="154.8" x2="86.9" y2="154.8" stroke="#555" stroke-width="0.85"/>
<line x1="17.30" y1="149.30" x2="18.1" y2="149.30" stroke="#555" stroke-width="0.55"/>
<line x1="16.70" y1="143.80" x2="18.1" y2="143.80" stroke="#555" stroke-width="0.55"/>
<line x1="17.30" y1="138.30" x2="18.1" y2="138.30" stroke="#555" stroke-width="0.55"/>
<line x1="16.70" y1="132.80" x2="18.1" y2="132.80" stroke="#555" stroke-width="0.55"/>
<line x1="17.30" y1="127.30" x2="18.1" y2="127.30" stroke="#555" stroke-width="0.55"/>
<line x1="16.70" y1="121.80" x2="18.1" y2="121.80" stroke="#555" stroke-width="0.55"/>
<line x1="17.30" y1="116.30" x2="18.1" y2="116.30" stroke="#555" stroke-width="0.55"/>
<line x1="16.70" y1="110.80" x2="18.1" y2="110.80" stroke="#555" stroke-width="0.55"/>
<line x1="17.30" y1="105.30" x2="18.1" y2="105.30" stroke="#555" stroke-width="0.55"/>
<line x1="18.10" y1="154.8" x2="18.10" y2="155.8" stroke="#444" stroke-width="0.5"/>
<text x="16.05" y="159.60" font-size="2.9" font-weight="bold" fill="#3a3a3a" textLength="4.1" lengthAdjust="spacingAndGlyphs">525</text>
<line x1="41.03" y1="154.8" x2="41.03" y2="155.8" stroke="#444" stroke-width="0.5"/>
<text x="38.98" y="159.60" font-size="2.9" font-weight="bold" fill="#3a3a3a" textLength="4.1" lengthAdjust="spacingAndGlyphs">530</text>
<line x1="63.97" y1="154.8" x2="63.97" y2="155.8" stroke="#444" stroke-width="0.5"/>
<text x="61.92" y="159.60" font-size="2.9" font-weight="bold" fill="#3a3a3a" textLength="4.1" lengthAdjust="spacingAndGlyphs">535</text>
<line x1="86.90" y1="154.8" x2="86.90" y2="155.8" stroke="#444" stroke-width="0.5"/>
<text x="84.85" y="159.60" font-size="2.9" font-weight="bold" fill="#3a3a3a" textLength="4.1" lengthAdjust="spacingAndGlyphs">540</text>
<text x="53.20" y="163.21" font-size="3.65" font-weight="bold" text-anchor="middle" fill="#1a1a1a" stroke="#1a1a1a" stroke-width="0.06" textLength="28.4" lengthAdjust="spacingAndGlyphs">Wavelength(nm)</text>
<text transform="translate(12.70,128.30) rotate(-90)" font-size="3.7" font-weight="bold" text-anchor="middle" fill="#262626" stroke="#262626" stroke-width="0.05" textLength="31.4" lengthAdjust="spacingAndGlyphs">Intensity(arb. unit)</text>
<text x="20.70" y="108.00" font-size="5.3" font-weight="bold" fill="#111" stroke="#111" stroke-width="0.06">0%</text>
<text x="84.90" y="106.00" font-size="5.3" font-weight="bold" text-anchor="end" fill="#111" stroke="#111" stroke-width="0.08">O 1s</text>
<polygon points="101.90,155.5 101.90,155.32 102.47,155.31 103.03,155.30 103.60,155.29 104.17,155.28 104.73,155.27 105.30,155.25 105.86,155.24 106.43,155.22 107.00,155.20 107.56,155.18 108.13,155.16 108.70,155.13 109.26,155.11 109.83,155.07 110.40,155.04 110.96,154.99 111.53,154.93 112.09,154.86 112.66,154.75 113.23,154.61 113.79,154.40 114.36,154.09 114.93,153.65 115.49,153.02 116.06,152.15 116.63,150.96 117.19,149.40 117.76,147.41 118.33,144.96 118.89,142.05 119.46,138.75 120.02,135.15 120.59,131.42 121.16,127.77 121.72,124.44 122.29,121.71 122.86,119.82 123.42,118.92 123.99,119.08 124.56,120.19 125.12,122.06 125.69,124.43 126.25,127.05 126.82,129.71 127.39,132.25 127.95,134.59 128.52,136.71 129.09,138.64 129.65,140.44 130.22,142.17 130.79,143.84 131.35,145.46 131.92,147.00 132.48,148.44 133.05,149.74 133.62,150.89 134.18,151.87 134.75,152.69 135.32,153.34 135.88,153.84 136.45,154.22 137.02,154.50 137.58,154.70 138.15,154.84 138.72,154.94 139.28,155.01 139.85,155.07 140.41,155.11 140.98,155.14 141.55,155.17 142.11,155.19 142.68,155.21 143.25,155.23 143.81,155.25 144.38,155.26 144.95,155.27 145.51,155.29 146.08,155.30 146.64,155.31 147.21,155.32 147.78,155.33 148.34,155.33 148.91,155.34 149.48,155.35 150.04,155.36 150.61,155.36 151.18,155.37 151.74,155.37 152.31,155.38 152.87,155.38 153.44,155.39 154.01,155.39 154.57,155.40 155.14,155.40 155.71,155.40 156.27,155.41 156.84,155.41 157.41,155.41 157.97,155.42 158.54,155.42 159.11,155.42 159.67,155.42 160.24,155.43 160.80,155.43 161.37,155.43 161.94,155.43 162.50,155.44 163.07,155.44 163.64,155.44 164.20,155.44 164.77,155.44 165.34,155.44 165.90,155.45 166.47,155.45 167.03,155.45 167.60,155.45 168.17,155.45 168.73,155.45 169.30,155.45 169.30,155.5" fill="#bdbdbd"/>
<polyline points="101.90,155.32 102.47,155.31 103.03,155.30 103.60,155.29 104.17,155.28 104.73,155.27 105.30,155.25 105.86,155.24 106.43,155.22 107.00,155.20 107.56,155.18 108.13,155.16 108.70,155.13 109.26,155.11 109.83,155.07 110.40,155.04 110.96,154.99 111.53,154.93 112.09,154.86 112.66,154.75 113.23,154.61 113.79,154.40 114.36,154.09 114.93,153.65 115.49,153.02 116.06,152.15 116.63,150.96 117.19,149.40 117.76,147.41 118.33,144.96 118.89,142.05 119.46,138.75 120.02,135.15 120.59,131.42 121.16,127.77 121.72,124.44 122.29,121.71 122.86,119.82 123.42,118.92 123.99,119.08 124.56,120.19 125.12,122.06 125.69,124.43 126.25,127.05 126.82,129.71 127.39,132.25 127.95,134.59 128.52,136.71 129.09,138.64 129.65,140.44 130.22,142.17 130.79,143.84 131.35,145.46 131.92,147.00 132.48,148.44 133.05,149.74 133.62,150.89 134.18,151.87 134.75,152.69 135.32,153.34 135.88,153.84 136.45,154.22 137.02,154.50 137.58,154.70 138.15,154.84 138.72,154.94 139.28,155.01 139.85,155.07 140.41,155.11 140.98,155.14 141.55,155.17 142.11,155.19 142.68,155.21 143.25,155.23 143.81,155.25 144.38,155.26 144.95,155.27 145.51,155.29 146.08,155.30 146.64,155.31 147.21,155.32 147.78,155.33 148.34,155.33 148.91,155.34 149.48,155.35 150.04,155.36 150.61,155.36 151.18,155.37 151.74,155.37 152.31,155.38 152.87,155.38 153.44,155.39 154.01,155.39 154.57,155.40 155.14,155.40 155.71,155.40 156.27,155.41 156.84,155.41 157.41,155.41 157.97,155.42 158.54,155.42 159.11,155.42 159.67,155.42 160.24,155.43 160.80,155.43 161.37,155.43 161.94,155.43 162.50,155.44 163.07,155.44 163.64,155.44 164.20,155.44 164.77,155.44 165.34,155.44 165.90,155.45 166.47,155.45 167.03,155.45 167.60,155.45 168.17,155.45 168.73,155.45 169.30,155.45" fill="none" stroke="#9a9a9a" stroke-width="0.6"/>
<polygon points="110.13,155.5 110.13,155.10 110.46,155.08 110.80,155.05 111.13,155.02 111.47,154.99 111.81,154.95 112.14,154.91 112.48,154.85 112.81,154.78 113.15,154.69 113.49,154.58 113.82,154.45 114.16,154.28 114.49,154.07 114.83,153.81 115.17,153.49 115.50,153.09 115.84,152.61 116.18,152.02 116.51,151.32 116.85,150.50 117.18,149.53 117.52,148.42 117.86,147.14 118.19,145.70 118.53,144.11 118.86,142.35 119.20,140.46 119.54,138.45 119.87,136.34 120.21,134.18 120.54,131.99 120.88,129.84 121.22,127.77 121.55,125.84 121.89,124.10 122.22,122.63 122.56,121.47 122.90,120.66 123.23,120.25 123.57,120.25 123.90,120.66 124.24,121.47 124.58,122.63 124.91,124.10 125.25,125.84 125.58,127.77 125.92,129.84 126.26,131.99 126.59,134.18 126.93,136.34 127.26,138.45 127.60,140.46 127.94,142.35 128.27,144.11 128.61,145.70 128.94,147.14 129.28,148.42 129.62,149.53 129.95,150.50 130.29,151.32 130.62,152.02 130.96,152.61 131.30,153.09 131.63,153.49 131.97,153.81 132.31,154.07 132.64,154.28 132.98,154.45 133.31,154.58 133.65,154.69 133.99,154.78 134.32,154.85 134.66,154.91 134.99,154.95 135.33,154.99 135.67,155.02 136.00,155.05 136.34,155.08 136.67,155.10 136.67,155.5" fill="#c0e2cf" fill-opacity="0.85"/>
<polyline points="110.13,155.10 110.46,155.08 110.80,155.05 111.13,155.02 111.47,154.99 111.81,154.95 112.14,154.91 112.48,154.85 112.81,154.78 113.15,154.69 113.49,154.58 113.82,154.45 114.16,154.28 114.49,154.07 114.83,153.81 115.17,153.49 115.50,153.09 115.84,152.61 116.18,152.02 116.51,151.32 116.85,150.50 117.18,149.53 117.52,148.42 117.86,147.14 118.19,145.70 118.53,144.11 118.86,142.35 119.20,140.46 119.54,138.45 119.87,136.34 120.21,134.18 120.54,131.99 120.88,129.84 121.22,127.77 121.55,125.84 121.89,124.10 122.22,122.63 122.56,121.47 122.90,120.66 123.23,120.25 123.57,120.25 123.90,120.66 124.24,121.47 124.58,122.63 124.91,124.10 125.25,125.84 125.58,127.77 125.92,129.84 126.26,131.99 126.59,134.18 126.93,136.34 127.26,138.45 127.60,140.46 127.94,142.35 128.27,144.11 128.61,145.70 128.94,147.14 129.28,148.42 129.62,149.53 129.95,150.50 130.29,151.32 130.62,152.02 130.96,152.61 131.30,153.09 131.63,153.49 131.97,153.81 132.31,154.07 132.64,154.28 132.98,154.45 133.31,154.58 133.65,154.69 133.99,154.78 134.32,154.85 134.66,154.91 134.99,154.95 135.33,154.99 135.67,155.02 136.00,155.05 136.34,155.08 136.67,155.10" fill="none" stroke="#6cbf92" stroke-width="0.7"/>
<polygon points="121.41,155.5 121.41,155.10 121.61,155.05 121.82,154.99 122.03,154.93 122.24,154.86 122.44,154.78 122.65,154.68 122.86,154.58 123.07,154.46 123.27,154.33 123.48,154.18 123.69,154.02 123.90,153.84 124.10,153.64 124.31,153.42 124.52,153.19 124.73,152.94 124.93,152.67 125.14,152.38 125.35,152.07 125.55,151.75 125.76,151.42 125.97,151.07 126.18,150.71 126.38,150.34 126.59,149.97 126.80,149.59 127.01,149.22 127.21,148.85 127.42,148.49 127.63,148.15 127.84,147.82 128.04,147.51 128.25,147.23 128.46,146.98 128.67,146.76 128.87,146.58 129.08,146.45 129.29,146.35 129.50,146.31 129.70,146.31 129.91,146.35 130.12,146.45 130.33,146.58 130.53,146.76 130.74,146.98 130.95,147.23 131.16,147.51 131.36,147.82 131.57,148.15 131.78,148.49 131.99,148.85 132.19,149.22 132.40,149.59 132.61,149.97 132.82,150.34 133.02,150.71 133.23,151.07 133.44,151.42 133.65,151.75 133.85,152.07 134.06,152.38 134.27,152.67 134.47,152.94 134.68,153.19 134.89,153.42 135.10,153.64 135.30,153.84 135.51,154.02 135.72,154.18 135.93,154.33 136.13,154.46 136.34,154.58 136.55,154.68 136.76,154.78 136.96,154.86 137.17,154.93 137.38,154.99 137.59,155.05 137.79,155.10 137.79,155.5" fill="#dcd6e0" fill-opacity="0.85"/>
<polyline points="121.41,155.10 121.61,155.05 121.82,154.99 122.03,154.93 122.24,154.86 122.44,154.78 122.65,154.68 122.86,154.58 123.07,154.46 123.27,154.33 123.48,154.18 123.69,154.02 123.90,153.84 124.10,153.64 124.31,153.42 124.52,153.19 124.73,152.94 124.93,152.67 125.14,152.38 125.35,152.07 125.55,151.75 125.76,151.42 125.97,151.07 126.18,150.71 126.38,150.34 126.59,149.97 126.80,149.59 127.01,149.22 127.21,148.85 127.42,148.49 127.63,148.15 127.84,147.82 128.04,147.51 128.25,147.23 128.46,146.98 128.67,146.76 128.87,146.58 129.08,146.45 129.29,146.35 129.50,146.31 129.70,146.31 129.91,146.35 130.12,146.45 130.33,146.58 130.53,146.76 130.74,146.98 130.95,147.23 131.16,147.51 131.36,147.82 131.57,148.15 131.78,148.49 131.99,148.85 132.19,149.22 132.40,149.59 132.61,149.97 132.82,150.34 133.02,150.71 133.23,151.07 133.44,151.42 133.65,151.75 133.85,152.07 134.06,152.38 134.27,152.67 134.47,152.94 134.68,153.19 134.89,153.42 135.10,153.64 135.30,153.84 135.51,154.02 135.72,154.18 135.93,154.33 136.13,154.46 136.34,154.58 136.55,154.68 136.76,154.78 136.96,154.86 137.17,154.93 137.38,154.99 137.59,155.05 137.79,155.10" fill="none" stroke="#b9a0d0" stroke-width="0.7"/>
<line x1="101.4" y1="100.3" x2="169.8" y2="100.3" stroke="#9a9a9a" stroke-width="1.2"/>
<line x1="169.8" y1="100.3" x2="169.8" y2="155.5" stroke="#9a9a9a" stroke-width="0.9"/>
<line x1="101.4" y1="99.8" x2="101.4" y2="156.3" stroke="#555" stroke-width="0.85"/>
<line x1="101.4" y1="155.5" x2="169.8" y2="155.5" stroke="#555" stroke-width="0.85"/>
<line x1="100.60" y1="150.00" x2="101.4" y2="150.00" stroke="#555" stroke-width="0.55"/>
<line x1="100.00" y1="144.50" x2="101.4" y2="144.50" stroke="#555" stroke-width="0.55"/>
<line x1="100.60" y1="139.00" x2="101.4" y2="139.00" stroke="#555" stroke-width="0.55"/>
<line x1="100.00" y1="133.50" x2="101.4" y2="133.50" stroke="#555" stroke-width="0.55"/>
<line x1="100.60" y1="128.00" x2="101.4" y2="128.00" stroke="#555" stroke-width="0.55"/>
<line x1="100.00" y1="122.50" x2="101.4" y2="122.50" stroke="#555" stroke-width="0.55"/>
<line x1="100.60" y1="117.00" x2="101.4" y2="117.00" stroke="#555" stroke-width="0.55"/>
<line x1="100.00" y1="111.50" x2="101.4" y2="111.50" stroke="#555" stroke-width="0.55"/>
<line x1="100.60" y1="106.00" x2="101.4" y2="106.00" stroke="#555" stroke-width="0.55"/>
<line x1="101.40" y1="155.5" x2="101.40" y2="156.5" stroke="#444" stroke-width="0.5"/>
<text x="99.35" y="160.30" font-size="2.9" font-weight="bold" fill="#3a3a3a" textLength="4.1" lengthAdjust="spacingAndGlyphs">525</text>
<line x1="124.20" y1="155.5" x2="124.20" y2="156.5" stroke="#444" stroke-width="0.5"/>
<text x="122.15" y="160.30" font-size="2.9" font-weight="bold" fill="#3a3a3a" textLength="4.1" lengthAdjust="spacingAndGlyphs">530</text>
<line x1="147.00" y1="155.5" x2="147.00" y2="156.5" stroke="#444" stroke-width="0.5"/>
<text x="144.95" y="160.30" font-size="2.9" font-weight="bold" fill="#3a3a3a" textLength="4.1" lengthAdjust="spacingAndGlyphs">535</text>
<line x1="169.80" y1="155.5" x2="169.80" y2="156.5" stroke="#444" stroke-width="0.5"/>
<text x="167.75" y="160.30" font-size="2.9" font-weight="bold" fill="#3a3a3a" textLength="4.1" lengthAdjust="spacingAndGlyphs">540</text>
<text x="135.90" y="163.21" font-size="3.65" font-weight="bold" text-anchor="middle" fill="#1a1a1a" stroke="#1a1a1a" stroke-width="0.06" textLength="28.4" lengthAdjust="spacingAndGlyphs">Wavelength(nm)</text>
<text transform="translate(96.70,128.50) rotate(-90)" font-size="3.7" font-weight="bold" text-anchor="middle" fill="#262626" stroke="#262626" stroke-width="0.05" textLength="31.4" lengthAdjust="spacingAndGlyphs">Intensity(arb. unit)</text>
<text x="104.30" y="108.00" font-size="5.3" font-weight="bold" fill="#2f78c0" stroke="#2f78c0" stroke-width="0.06">5%</text>
<text x="166.00" y="107.30" font-size="5.3" font-weight="bold" text-anchor="end" fill="#111" stroke="#111" stroke-width="0.08">O 1s</text>
<polygon points="185.90,155.5 185.90,155.34 186.47,155.33 187.04,155.32 187.61,155.32 188.19,155.31 188.76,155.30 189.33,155.29 189.90,155.28 190.47,155.27 191.04,155.25 191.61,155.24 192.19,155.22 192.76,155.21 193.33,155.19 193.90,155.16 194.47,155.13 195.04,155.10 195.61,155.06 196.19,155.00 196.76,154.93 197.33,154.84 197.90,154.73 198.47,154.58 199.04,154.40 199.61,154.16 200.19,153.87 200.76,153.50 201.33,153.05 201.90,152.50 202.47,151.85 203.04,151.08 203.61,150.18 204.19,149.15 204.76,147.99 205.33,146.70 205.90,145.31 206.47,143.82 207.04,142.27 207.61,140.68 208.19,139.10 208.76,137.57 209.33,136.15 209.90,134.88 210.47,133.82 211.04,133.01 211.61,132.49 212.19,132.29 212.76,132.40 213.33,132.83 213.90,133.53 214.47,134.47 215.04,135.60 215.61,136.86 216.19,138.19 216.76,139.57 217.33,140.93 217.90,142.27 218.47,143.55 219.04,144.77 219.61,145.93 220.19,147.02 220.76,148.05 221.33,149.02 221.90,149.93 222.47,150.76 223.04,151.52 223.61,152.19 224.19,152.78 224.76,153.28 225.33,153.71 225.90,154.05 226.47,154.33 227.04,154.55 227.61,154.72 228.19,154.84 228.76,154.94 229.33,155.02 229.90,155.07 230.47,155.11 231.04,155.15 231.61,155.17 232.19,155.20 232.76,155.22 233.33,155.23 233.90,155.25 234.47,155.26 235.04,155.27 235.61,155.28 236.19,155.29 236.76,155.30 237.33,155.31 237.90,155.32 238.47,155.33 239.04,155.33 239.61,155.34 240.19,155.35 240.76,155.35 241.33,155.36 241.90,155.36 242.47,155.37 243.04,155.37 243.61,155.38 244.19,155.38 244.76,155.39 245.33,155.39 245.90,155.39 246.47,155.40 247.04,155.40 247.61,155.40 248.19,155.41 248.76,155.41 249.33,155.41 249.90,155.42 250.47,155.42 251.04,155.42 251.61,155.42 252.19,155.42 252.76,155.43 253.33,155.43 253.90,155.43 253.90,155.5" fill="#bdbdbd"/>
<polyline points="185.90,155.34 186.47,155.33 187.04,155.32 187.61,155.32 188.19,155.31 188.76,155.30 189.33,155.29 189.90,155.28 190.47,155.27 191.04,155.25 191.61,155.24 192.19,155.22 192.76,155.21 193.33,155.19 193.90,155.16 194.47,155.13 195.04,155.10 195.61,155.06 196.19,155.00 196.76,154.93 197.33,154.84 197.90,154.73 198.47,154.58 199.04,154.40 199.61,154.16 200.19,153.87 200.76,153.50 201.33,153.05 201.90,152.50 202.47,151.85 203.04,151.08 203.61,150.18 204.19,149.15 204.76,147.99 205.33,146.70 205.90,145.31 206.47,143.82 207.04,142.27 207.61,140.68 208.19,139.10 208.76,137.57 209.33,136.15 209.90,134.88 210.47,133.82 211.04,133.01 211.61,132.49 212.19,132.29 212.76,132.40 213.33,132.83 213.90,133.53 214.47,134.47 215.04,135.60 215.61,136.86 216.19,138.19 216.76,139.57 217.33,140.93 217.90,142.27 218.47,143.55 219.04,144.77 219.61,145.93 220.19,147.02 220.76,148.05 221.33,149.02 221.90,149.93 222.47,150.76 223.04,151.52 223.61,152.19 224.19,152.78 224.76,153.28 225.33,153.71 225.90,154.05 226.47,154.33 227.04,154.55 227.61,154.72 228.19,154.84 228.76,154.94 229.33,155.02 229.90,155.07 230.47,155.11 231.04,155.15 231.61,155.17 232.19,155.20 232.76,155.22 233.33,155.23 233.90,155.25 234.47,155.26 235.04,155.27 235.61,155.28 236.19,155.29 236.76,155.30 237.33,155.31 237.90,155.32 238.47,155.33 239.04,155.33 239.61,155.34 240.19,155.35 240.76,155.35 241.33,155.36 241.90,155.36 242.47,155.37 243.04,155.37 243.61,155.38 244.19,155.38 244.76,155.39 245.33,155.39 245.90,155.39 246.47,155.40 247.04,155.40 247.61,155.40 248.19,155.41 248.76,155.41 249.33,155.41 249.90,155.42 250.47,155.42 251.04,155.42 251.61,155.42 252.19,155.42 252.76,155.43 253.33,155.43 253.90,155.43" fill="none" stroke="#9a9a9a" stroke-width="0.6"/>
<polygon points="195.17,155.5 195.17,155.10 195.60,155.06 196.03,155.02 196.46,154.98 196.89,154.92 197.32,154.85 197.76,154.77 198.19,154.67 198.62,154.55 199.05,154.40 199.48,154.23 199.91,154.03 200.34,153.79 200.77,153.50 201.21,153.17 201.64,152.78 202.07,152.34 202.50,151.83 202.93,151.25 203.36,150.61 203.79,149.89 204.22,149.09 204.65,148.22 205.09,147.28 205.52,146.27 205.95,145.21 206.38,144.09 206.81,142.93 207.24,141.74 207.67,140.54 208.10,139.35 208.54,138.19 208.97,137.07 209.40,136.02 209.83,135.07 210.26,134.23 210.69,133.53 211.12,132.99 211.55,132.61 211.98,132.42 212.42,132.42 212.85,132.61 213.28,132.99 213.71,133.53 214.14,134.23 214.57,135.07 215.00,136.02 215.43,137.07 215.86,138.19 216.30,139.35 216.73,140.54 217.16,141.74 217.59,142.93 218.02,144.09 218.45,145.21 218.88,146.27 219.31,147.28 219.75,148.22 220.18,149.09 220.61,149.89 221.04,150.61 221.47,151.25 221.90,151.83 222.33,152.34 222.76,152.78 223.19,153.17 223.63,153.50 224.06,153.79 224.49,154.03 224.92,154.23 225.35,154.40 225.78,154.55 226.21,154.67 226.64,154.77 227.08,154.85 227.51,154.92 227.94,154.98 228.37,155.02 228.80,155.06 229.23,155.10 229.23,155.5" fill="#c0e2cf" fill-opacity="0.85"/>
<polyline points="195.17,155.10 195.60,155.06 196.03,155.02 196.46,154.98 196.89,154.92 197.32,154.85 197.76,154.77 198.19,154.67 198.62,154.55 199.05,154.40 199.48,154.23 199.91,154.03 200.34,153.79 200.77,153.50 201.21,153.17 201.64,152.78 202.07,152.34 202.50,151.83 202.93,151.25 203.36,150.61 203.79,149.89 204.22,149.09 204.65,148.22 205.09,147.28 205.52,146.27 205.95,145.21 206.38,144.09 206.81,142.93 207.24,141.74 207.67,140.54 208.10,139.35 208.54,138.19 208.97,137.07 209.40,136.02 209.83,135.07 210.26,134.23 210.69,133.53 211.12,132.99 211.55,132.61 211.98,132.42 212.42,132.42 212.85,132.61 213.28,132.99 213.71,133.53 214.14,134.23 214.57,135.07 215.00,136.02 215.43,137.07 215.86,138.19 216.30,139.35 216.73,140.54 217.16,141.74 217.59,142.93 218.02,144.09 218.45,145.21 218.88,146.27 219.31,147.28 219.75,148.22 220.18,149.09 220.61,149.89 221.04,150.61 221.47,151.25 221.90,151.83 222.33,152.34 222.76,152.78 223.19,153.17 223.63,153.50 224.06,153.79 224.49,154.03 224.92,154.23 225.35,154.40 225.78,154.55 226.21,154.67 226.64,154.77 227.08,154.85 227.51,154.92 227.94,154.98 228.37,155.02 228.80,155.06 229.23,155.10" fill="none" stroke="#6cbf92" stroke-width="0.7"/>
<polygon points="214.53,155.5 214.53,155.10 214.68,155.07 214.83,155.03 214.98,155.00 215.13,154.96 215.28,154.92 215.43,154.88 215.58,154.83 215.74,154.79 215.89,154.74 216.04,154.69 216.19,154.64 216.34,154.59 216.49,154.54 216.64,154.48 216.79,154.43 216.95,154.37 217.10,154.31 217.25,154.25 217.40,154.20 217.55,154.14 217.70,154.08 217.85,154.02 218.00,153.96 218.16,153.91 218.31,153.85 218.46,153.80 218.61,153.75 218.76,153.70 218.91,153.65 219.06,153.61 219.21,153.57 219.37,153.53 219.52,153.50 219.67,153.47 219.82,153.45 219.97,153.43 220.12,153.42 220.27,153.41 220.42,153.40 220.58,153.40 220.73,153.41 220.88,153.42 221.03,153.43 221.18,153.45 221.33,153.47 221.48,153.50 221.63,153.53 221.79,153.57 221.94,153.61 222.09,153.65 222.24,153.70 222.39,153.75 222.54,153.80 222.69,153.85 222.84,153.91 223.00,153.96 223.15,154.02 223.30,154.08 223.45,154.14 223.60,154.20 223.75,154.25 223.90,154.31 224.05,154.37 224.21,154.43 224.36,154.48 224.51,154.54 224.66,154.59 224.81,154.64 224.96,154.69 225.11,154.74 225.26,154.79 225.42,154.83 225.57,154.88 225.72,154.92 225.87,154.96 226.02,155.00 226.17,155.03 226.32,155.07 226.47,155.10 226.47,155.5" fill="#dcd6e0" fill-opacity="0.85"/>
<polyline points="214.53,155.10 214.68,155.07 214.83,155.03 214.98,155.00 215.13,154.96 215.28,154.92 215.43,154.88 215.58,154.83 215.74,154.79 215.89,154.74 216.04,154.69 216.19,154.64 216.34,154.59 216.49,154.54 216.64,154.48 216.79,154.43 216.95,154.37 217.10,154.31 217.25,154.25 217.40,154.20 217.55,154.14 217.70,154.08 217.85,154.02 218.00,153.96 218.16,153.91 218.31,153.85 218.46,153.80 218.61,153.75 218.76,153.70 218.91,153.65 219.06,153.61 219.21,153.57 219.37,153.53 219.52,153.50 219.67,153.47 219.82,153.45 219.97,153.43 220.12,153.42 220.27,153.41 220.42,153.40 220.58,153.40 220.73,153.41 220.88,153.42 221.03,153.43 221.18,153.45 221.33,153.47 221.48,153.50 221.63,153.53 221.79,153.57 221.94,153.61 222.09,153.65 222.24,153.70 222.39,153.75 222.54,153.80 222.69,153.85 222.84,153.91 223.00,153.96 223.15,154.02 223.30,154.08 223.45,154.14 223.60,154.20 223.75,154.25 223.90,154.31 224.05,154.37 224.21,154.43 224.36,154.48 224.51,154.54 224.66,154.59 224.81,154.64 224.96,154.69 225.11,154.74 225.26,154.79 225.42,154.83 225.57,154.88 225.72,154.92 225.87,154.96 226.02,155.00 226.17,155.03 226.32,155.07 226.47,155.10" fill="none" stroke="#b9a0d0" stroke-width="0.7"/>
<line x1="185.4" y1="100.3" x2="254.4" y2="100.3" stroke="#9a9a9a" stroke-width="1.2"/>
<line x1="254.4" y1="100.3" x2="254.4" y2="155.5" stroke="#9a9a9a" stroke-width="0.9"/>
<line x1="185.4" y1="99.8" x2="185.4" y2="156.3" stroke="#555" stroke-width="0.85"/>
<line x1="185.4" y1="155.5" x2="254.4" y2="155.5" stroke="#555" stroke-width="0.85"/>
<line x1="184.60" y1="150.00" x2="185.4" y2="150.00" stroke="#555" stroke-width="0.55"/>
<line x1="184.00" y1="144.50" x2="185.4" y2="144.50" stroke="#555" stroke-width="0.55"/>
<line x1="184.60" y1="139.00" x2="185.4" y2="139.00" stroke="#555" stroke-width="0.55"/>
<line x1="184.00" y1="133.50" x2="185.4" y2="133.50" stroke="#555" stroke-width="0.55"/>
<line x1="184.60" y1="128.00" x2="185.4" y2="128.00" stroke="#555" stroke-width="0.55"/>
<line x1="184.00" y1="122.50" x2="185.4" y2="122.50" stroke="#555" stroke-width="0.55"/>
<line x1="184.60" y1="117.00" x2="185.4" y2="117.00" stroke="#555" stroke-width="0.55"/>
<line x1="184.00" y1="111.50" x2="185.4" y2="111.50" stroke="#555" stroke-width="0.55"/>
<line x1="184.60" y1="106.00" x2="185.4" y2="106.00" stroke="#555" stroke-width="0.55"/>
<line x1="185.40" y1="155.5" x2="185.40" y2="156.5" stroke="#444" stroke-width="0.5"/>
<text x="183.35" y="160.30" font-size="2.9" font-weight="bold" fill="#3a3a3a" textLength="4.1" lengthAdjust="spacingAndGlyphs">525</text>
<line x1="208.40" y1="155.5" x2="208.40" y2="156.5" stroke="#444" stroke-width="0.5"/>
<text x="206.35" y="160.30" font-size="2.9" font-weight="bold" fill="#3a3a3a" textLength="4.1" lengthAdjust="spacingAndGlyphs">530</text>
<line x1="231.40" y1="155.5" x2="231.40" y2="156.5" stroke="#444" stroke-width="0.5"/>
<text x="229.35" y="160.30" font-size="2.9" font-weight="bold" fill="#3a3a3a" textLength="4.1" lengthAdjust="spacingAndGlyphs">535</text>
<line x1="254.40" y1="155.5" x2="254.40" y2="156.5" stroke="#444" stroke-width="0.5"/>
<text x="252.35" y="160.30" font-size="2.9" font-weight="bold" fill="#3a3a3a" textLength="4.1" lengthAdjust="spacingAndGlyphs">540</text>
<text x="222.10" y="163.56" font-size="3.65" font-weight="bold" text-anchor="middle" fill="#1a1a1a" stroke="#1a1a1a" stroke-width="0.06" textLength="28.4" lengthAdjust="spacingAndGlyphs">Wavelength(nm)</text>
<text transform="translate(181.70,130.20) rotate(-90)" font-size="3.7" font-weight="bold" text-anchor="middle" fill="#262626" stroke="#262626" stroke-width="0.05" textLength="31.4" lengthAdjust="spacingAndGlyphs">Intensity(arb. unit)</text>
<text x="188.70" y="107.70" font-size="5.3" font-weight="bold" fill="#e02424" stroke="#e02424" stroke-width="0.06">15%</text>
<text x="252.00" y="107.20" font-size="5.3" font-weight="bold" text-anchor="end" fill="#111" stroke="#111" stroke-width="0.08">O 1s</text>
<polygon points="28.96,223.2 28.96,222.80 29.22,222.77 29.47,222.74 29.73,222.71 29.98,222.67 30.23,222.62 30.49,222.56 30.74,222.49 31.00,222.40 31.25,222.29 31.50,222.15 31.76,221.98 32.01,221.78 32.27,221.53 32.52,221.22 32.78,220.86 33.03,220.42 33.28,219.90 33.54,219.29 33.79,218.59 34.05,217.77 34.30,216.84 34.55,215.79 34.81,214.63 35.06,213.34 35.32,211.94 35.57,210.44 35.82,208.84 36.08,207.18 36.33,205.46 36.59,203.72 36.84,201.99 37.09,200.31 37.35,198.71 37.60,197.23 37.86,195.92 38.11,194.81 38.36,193.94 38.62,193.34 38.87,193.04 39.13,193.04 39.38,193.34 39.64,193.94 39.89,194.81 40.14,195.92 40.40,197.23 40.65,198.71 40.91,200.31 41.16,201.99 41.41,203.72 41.67,205.46 41.92,207.18 42.18,208.84 42.43,210.44 42.68,211.94 42.94,213.34 43.19,214.63 43.45,215.79 43.70,216.84 43.95,217.77 44.21,218.59 44.46,219.29 44.72,219.90 44.97,220.42 45.22,220.86 45.48,221.22 45.73,221.53 45.99,221.78 46.24,221.98 46.50,222.15 46.75,222.29 47.00,222.40 47.26,222.49 47.51,222.56 47.77,222.62 48.02,222.67 48.27,222.71 48.53,222.74 48.78,222.77 49.04,222.80 49.04,223.2" fill="#ebdfac" fill-opacity="0.85"/>
<polyline points="28.96,222.80 29.22,222.77 29.47,222.74 29.73,222.71 29.98,222.67 30.23,222.62 30.49,222.56 30.74,222.49 31.00,222.40 31.25,222.29 31.50,222.15 31.76,221.98 32.01,221.78 32.27,221.53 32.52,221.22 32.78,220.86 33.03,220.42 33.28,219.90 33.54,219.29 33.79,218.59 34.05,217.77 34.30,216.84 34.55,215.79 34.81,214.63 35.06,213.34 35.32,211.94 35.57,210.44 35.82,208.84 36.08,207.18 36.33,205.46 36.59,203.72 36.84,201.99 37.09,200.31 37.35,198.71 37.60,197.23 37.86,195.92 38.11,194.81 38.36,193.94 38.62,193.34 38.87,193.04 39.13,193.04 39.38,193.34 39.64,193.94 39.89,194.81 40.14,195.92 40.40,197.23 40.65,198.71 40.91,200.31 41.16,201.99 41.41,203.72 41.67,205.46 41.92,207.18 42.18,208.84 42.43,210.44 42.68,211.94 42.94,213.34 43.19,214.63 43.45,215.79 43.70,216.84 43.95,217.77 44.21,218.59 44.46,219.29 44.72,219.90 44.97,220.42 45.22,220.86 45.48,221.22 45.73,221.53 45.99,221.78 46.24,221.98 46.50,222.15 46.75,222.29 47.00,222.40 47.26,222.49 47.51,222.56 47.77,222.62 48.02,222.67 48.27,222.71 48.53,222.74 48.78,222.77 49.04,222.80" fill="none" stroke="#d8c274" stroke-width="0.7"/>
<polygon points="59.85,223.2 59.85,222.80 60.06,222.76 60.28,222.72 60.49,222.67 60.71,222.61 60.92,222.54 61.13,222.45 61.35,222.34 61.56,222.22 61.78,222.07 61.99,221.89 62.20,221.68 62.42,221.44 62.63,221.16 62.85,220.83 63.06,220.45 63.27,220.02 63.49,219.53 63.70,218.98 63.91,218.37 64.13,217.69 64.34,216.95 64.56,216.14 64.77,215.28 64.98,214.36 65.20,213.39 65.41,212.38 65.63,211.34 65.84,210.28 66.05,209.22 66.27,208.17 66.48,207.14 66.70,206.16 66.91,205.25 67.12,204.42 67.34,203.69 67.55,203.08 67.77,202.61 67.98,202.28 68.19,202.12 68.41,202.12 68.62,202.28 68.83,202.61 69.05,203.08 69.26,203.69 69.48,204.42 69.69,205.25 69.90,206.16 70.12,207.14 70.33,208.17 70.55,209.22 70.76,210.28 70.97,211.34 71.19,212.38 71.40,213.39 71.62,214.36 71.83,215.28 72.04,216.14 72.26,216.95 72.47,217.69 72.69,218.37 72.90,218.98 73.11,219.53 73.33,220.02 73.54,220.45 73.75,220.83 73.97,221.16 74.18,221.44 74.40,221.68 74.61,221.89 74.82,222.07 75.04,222.22 75.25,222.34 75.47,222.45 75.68,222.54 75.89,222.61 76.11,222.67 76.32,222.72 76.54,222.76 76.75,222.80 76.75,223.2" fill="#b4cccd" fill-opacity="0.85"/>
<polyline points="59.85,222.80 60.06,222.76 60.28,222.72 60.49,222.67 60.71,222.61 60.92,222.54 61.13,222.45 61.35,222.34 61.56,222.22 61.78,222.07 61.99,221.89 62.20,221.68 62.42,221.44 62.63,221.16 62.85,220.83 63.06,220.45 63.27,220.02 63.49,219.53 63.70,218.98 63.91,218.37 64.13,217.69 64.34,216.95 64.56,216.14 64.77,215.28 64.98,214.36 65.20,213.39 65.41,212.38 65.63,211.34 65.84,210.28 66.05,209.22 66.27,208.17 66.48,207.14 66.70,206.16 66.91,205.25 67.12,204.42 67.34,203.69 67.55,203.08 67.77,202.61 67.98,202.28 68.19,202.12 68.41,202.12 68.62,202.28 68.83,202.61 69.05,203.08 69.26,203.69 69.48,204.42 69.69,205.25 69.90,206.16 70.12,207.14 70.33,208.17 70.55,209.22 70.76,210.28 70.97,211.34 71.19,212.38 71.40,213.39 71.62,214.36 71.83,215.28 72.04,216.14 72.26,216.95 72.47,217.69 72.69,218.37 72.90,218.98 73.11,219.53 73.33,220.02 73.54,220.45 73.75,220.83 73.97,221.16 74.18,221.44 74.40,221.68 74.61,221.89 74.82,222.07 75.04,222.22 75.25,222.34 75.47,222.45 75.68,222.54 75.89,222.61 76.11,222.67 76.32,222.72 76.54,222.76 76.75,222.80" fill="none" stroke="#5ec0c8" stroke-width="0.7"/>
<line x1="18.4" y1="168.0" x2="87.3" y2="168.0" stroke="#9a9a9a" stroke-width="1.2"/>
<line x1="87.3" y1="168.0" x2="87.3" y2="223.2" stroke="#9a9a9a" stroke-width="0.9"/>
<line x1="18.4" y1="167.5" x2="18.4" y2="224.0" stroke="#555" stroke-width="0.85"/>
<line x1="18.4" y1="223.2" x2="87.3" y2="223.2" stroke="#555" stroke-width="0.85"/>
<line x1="17.60" y1="217.70" x2="18.4" y2="217.70" stroke="#555" stroke-width="0.55"/>
<line x1="17.00" y1="212.20" x2="18.4" y2="212.20" stroke="#555" stroke-width="0.55"/>
<line x1="17.60" y1="206.70" x2="18.4" y2="206.70" stroke="#555" stroke-width="0.55"/>
<line x1="17.00" y1="201.20" x2="18.4" y2="201.20" stroke="#555" stroke-width="0.55"/>
<line x1="17.60" y1="195.70" x2="18.4" y2="195.70" stroke="#555" stroke-width="0.55"/>
<line x1="17.00" y1="190.20" x2="18.4" y2="190.20" stroke="#555" stroke-width="0.55"/>
<line x1="17.60" y1="184.70" x2="18.4" y2="184.70" stroke="#555" stroke-width="0.55"/>
<line x1="17.00" y1="179.20" x2="18.4" y2="179.20" stroke="#555" stroke-width="0.55"/>
<line x1="17.60" y1="173.70" x2="18.4" y2="173.70" stroke="#555" stroke-width="0.55"/>
<line x1="18.40" y1="223.2" x2="18.40" y2="224.2" stroke="#444" stroke-width="0.5"/>
<text x="16.35" y="228.00" font-size="2.9" font-weight="bold" fill="#3a3a3a" textLength="4.1" lengthAdjust="spacingAndGlyphs">480</text>
<line x1="35.62" y1="223.2" x2="35.62" y2="224.2" stroke="#444" stroke-width="0.5"/>
<text x="33.58" y="228.00" font-size="2.9" font-weight="bold" fill="#3a3a3a" textLength="4.1" lengthAdjust="spacingAndGlyphs">485</text>
<line x1="52.85" y1="223.2" x2="52.85" y2="224.2" stroke="#444" stroke-width="0.5"/>
<text x="50.80" y="228.00" font-size="2.9" font-weight="bold" fill="#3a3a3a" textLength="4.1" lengthAdjust="spacingAndGlyphs">490</text>
<line x1="70.08" y1="223.2" x2="70.08" y2="224.2" stroke="#444" stroke-width="0.5"/>
<text x="68.03" y="228.00" font-size="2.9" font-weight="bold" fill="#3a3a3a" textLength="4.1" lengthAdjust="spacingAndGlyphs">495</text>
<line x1="87.30" y1="223.2" x2="87.30" y2="224.2" stroke="#444" stroke-width="0.5"/>
<text x="85.25" y="228.00" font-size="2.9" font-weight="bold" fill="#3a3a3a" textLength="4.1" lengthAdjust="spacingAndGlyphs">500</text>
<text x="56.25" y="233.21" font-size="3.65" font-weight="bold" text-anchor="middle" fill="#1a1a1a" stroke="#1a1a1a" stroke-width="0.06" textLength="28.4" lengthAdjust="spacingAndGlyphs">Wavelength(nm)</text>
<text transform="translate(12.70,195.10) rotate(-90)" font-size="3.7" font-weight="bold" text-anchor="middle" fill="#262626" stroke="#262626" stroke-width="0.05" textLength="31.4" lengthAdjust="spacingAndGlyphs">Intensity(arb. unit)</text>
<text x="22.00" y="176.00" font-size="5.3" font-weight="bold" fill="#111" stroke="#111" stroke-width="0.06">0%</text>
<text x="84.50" y="175.20" font-size="5.3" font-weight="bold" text-anchor="end" fill="#111" stroke="#111" stroke-width="0.08">Sn 3d</text>
<polygon points="113.02,223.5 113.02,223.10 113.26,223.07 113.49,223.03 113.73,222.99 113.97,222.94 114.21,222.88 114.44,222.81 114.68,222.72 114.92,222.61 115.16,222.47 115.39,222.31 115.63,222.12 115.87,221.89 116.11,221.61 116.34,221.28 116.58,220.90 116.82,220.45 117.06,219.93 117.29,219.34 117.53,218.66 117.77,217.90 118.01,217.05 118.24,216.11 118.48,215.09 118.72,213.98 118.96,212.79 119.19,211.54 119.43,210.23 119.67,208.89 119.91,207.52 120.14,206.15 120.38,204.80 120.62,203.50 120.86,202.28 121.09,201.16 121.33,200.17 121.57,199.34 121.81,198.70 122.04,198.25 122.28,198.03 122.52,198.03 122.76,198.25 122.99,198.70 123.23,199.34 123.47,200.17 123.71,201.16 123.94,202.28 124.18,203.50 124.42,204.80 124.66,206.15 124.89,207.52 125.13,208.89 125.37,210.23 125.61,211.54 125.84,212.79 126.08,213.98 126.32,215.09 126.56,216.11 126.79,217.05 127.03,217.90 127.27,218.66 127.51,219.34 127.74,219.93 127.98,220.45 128.22,220.90 128.46,221.28 128.69,221.61 128.93,221.89 129.17,222.12 129.41,222.31 129.64,222.47 129.88,222.61 130.12,222.72 130.36,222.81 130.59,222.88 130.83,222.94 131.07,222.99 131.31,223.03 131.54,223.07 131.78,223.10 131.78,223.5" fill="#ebdfac" fill-opacity="0.85"/>
<polyline points="113.02,223.10 113.26,223.07 113.49,223.03 113.73,222.99 113.97,222.94 114.21,222.88 114.44,222.81 114.68,222.72 114.92,222.61 115.16,222.47 115.39,222.31 115.63,222.12 115.87,221.89 116.11,221.61 116.34,221.28 116.58,220.90 116.82,220.45 117.06,219.93 117.29,219.34 117.53,218.66 117.77,217.90 118.01,217.05 118.24,216.11 118.48,215.09 118.72,213.98 118.96,212.79 119.19,211.54 119.43,210.23 119.67,208.89 119.91,207.52 120.14,206.15 120.38,204.80 120.62,203.50 120.86,202.28 121.09,201.16 121.33,200.17 121.57,199.34 121.81,198.70 122.04,198.25 122.28,198.03 122.52,198.03 122.76,198.25 122.99,198.70 123.23,199.34 123.47,200.17 123.71,201.16 123.94,202.28 124.18,203.50 124.42,204.80 124.66,206.15 124.89,207.52 125.13,208.89 125.37,210.23 125.61,211.54 125.84,212.79 126.08,213.98 126.32,215.09 126.56,216.11 126.79,217.05 127.03,217.90 127.27,218.66 127.51,219.34 127.74,219.93 127.98,220.45 128.22,220.90 128.46,221.28 128.69,221.61 128.93,221.89 129.17,222.12 129.41,222.31 129.64,222.47 129.88,222.61 130.12,222.72 130.36,222.81 130.59,222.88 130.83,222.94 131.07,222.99 131.31,223.03 131.54,223.07 131.78,223.10" fill="none" stroke="#d8c274" stroke-width="0.7"/>
<polygon points="143.30,223.5 143.30,223.10 143.50,223.06 143.71,223.01 143.91,222.95 144.11,222.88 144.31,222.80 144.52,222.71 144.72,222.60 144.92,222.47 145.12,222.31 145.33,222.13 145.53,221.92 145.73,221.68 145.93,221.41 146.14,221.09 146.34,220.74 146.54,220.34 146.74,219.90 146.95,219.41 147.15,218.87 147.35,218.29 147.55,217.66 147.76,216.98 147.96,216.26 148.16,215.51 148.36,214.72 148.57,213.91 148.77,213.08 148.97,212.25 149.17,211.41 149.38,210.60 149.58,209.81 149.78,209.06 149.98,208.36 150.19,207.73 150.39,207.19 150.59,206.73 150.79,206.38 151.00,206.14 151.20,206.02 151.40,206.02 151.60,206.14 151.81,206.38 152.01,206.73 152.21,207.19 152.41,207.73 152.62,208.36 152.82,209.06 153.02,209.81 153.22,210.60 153.43,211.41 153.63,212.25 153.83,213.08 154.03,213.91 154.24,214.72 154.44,215.51 154.64,216.26 154.84,216.98 155.05,217.66 155.25,218.29 155.45,218.87 155.65,219.41 155.86,219.90 156.06,220.34 156.26,220.74 156.46,221.09 156.67,221.41 156.87,221.68 157.07,221.92 157.27,222.13 157.48,222.31 157.68,222.47 157.88,222.60 158.08,222.71 158.29,222.80 158.49,222.88 158.69,222.95 158.89,223.01 159.10,223.06 159.30,223.10 159.30,223.5" fill="#b4cccd" fill-opacity="0.85"/>
<polyline points="143.30,223.10 143.50,223.06 143.71,223.01 143.91,222.95 144.11,222.88 144.31,222.80 144.52,222.71 144.72,222.60 144.92,222.47 145.12,222.31 145.33,222.13 145.53,221.92 145.73,221.68 145.93,221.41 146.14,221.09 146.34,220.74 146.54,220.34 146.74,219.90 146.95,219.41 147.15,218.87 147.35,218.29 147.55,217.66 147.76,216.98 147.96,216.26 148.16,215.51 148.36,214.72 148.57,213.91 148.77,213.08 148.97,212.25 149.17,211.41 149.38,210.60 149.58,209.81 149.78,209.06 149.98,208.36 150.19,207.73 150.39,207.19 150.59,206.73 150.79,206.38 151.00,206.14 151.20,206.02 151.40,206.02 151.60,206.14 151.81,206.38 152.01,206.73 152.21,207.19 152.41,207.73 152.62,208.36 152.82,209.06 153.02,209.81 153.22,210.60 153.43,211.41 153.63,212.25 153.83,213.08 154.03,213.91 154.24,214.72 154.44,215.51 154.64,216.26 154.84,216.98 155.05,217.66 155.25,218.29 155.45,218.87 155.65,219.41 155.86,219.90 156.06,220.34 156.26,220.74 156.46,221.09 156.67,221.41 156.87,221.68 157.07,221.92 157.27,222.13 157.48,222.31 157.68,222.47 157.88,222.60 158.08,222.71 158.29,222.80 158.49,222.88 158.69,222.95 158.89,223.01 159.10,223.06 159.30,223.10" fill="none" stroke="#5ec0c8" stroke-width="0.7"/>
<line x1="101.4" y1="168.4" x2="170.3" y2="168.4" stroke="#9a9a9a" stroke-width="1.2"/>
<line x1="170.3" y1="168.4" x2="170.3" y2="223.5" stroke="#9a9a9a" stroke-width="0.9"/>
<line x1="101.4" y1="167.9" x2="101.4" y2="224.3" stroke="#555" stroke-width="0.85"/>
<line x1="101.4" y1="223.5" x2="170.3" y2="223.5" stroke="#555" stroke-width="0.85"/>
<line x1="100.60" y1="218.00" x2="101.4" y2="218.00" stroke="#555" stroke-width="0.55"/>
<line x1="100.00" y1="212.50" x2="101.4" y2="212.50" stroke="#555" stroke-width="0.55"/>
<line x1="100.60" y1="207.00" x2="101.4" y2="207.00" stroke="#555" stroke-width="0.55"/>
<line x1="100.00" y1="201.50" x2="101.4" y2="201.50" stroke="#555" stroke-width="0.55"/>
<line x1="100.60" y1="196.00" x2="101.4" y2="196.00" stroke="#555" stroke-width="0.55"/>
<line x1="100.00" y1="190.50" x2="101.4" y2="190.50" stroke="#555" stroke-width="0.55"/>
<line x1="100.60" y1="185.00" x2="101.4" y2="185.00" stroke="#555" stroke-width="0.55"/>
<line x1="100.00" y1="179.50" x2="101.4" y2="179.50" stroke="#555" stroke-width="0.55"/>
<line x1="100.60" y1="174.00" x2="101.4" y2="174.00" stroke="#555" stroke-width="0.55"/>
<line x1="101.40" y1="223.5" x2="101.40" y2="224.5" stroke="#444" stroke-width="0.5"/>
<text x="99.35" y="228.30" font-size="2.9" font-weight="bold" fill="#3a3a3a" textLength="4.1" lengthAdjust="spacingAndGlyphs">480</text>
<line x1="118.62" y1="223.5" x2="118.62" y2="224.5" stroke="#444" stroke-width="0.5"/>
<text x="116.58" y="228.30" font-size="2.9" font-weight="bold" fill="#3a3a3a" textLength="4.1" lengthAdjust="spacingAndGlyphs">485</text>
<line x1="135.85" y1="223.5" x2="135.85" y2="224.5" stroke="#444" stroke-width="0.5"/>
<text x="133.80" y="228.30" font-size="2.9" font-weight="bold" fill="#3a3a3a" textLength="4.1" lengthAdjust="spacingAndGlyphs">490</text>
<line x1="153.08" y1="223.5" x2="153.08" y2="224.5" stroke="#444" stroke-width="0.5"/>
<text x="151.03" y="228.30" font-size="2.9" font-weight="bold" fill="#3a3a3a" textLength="4.1" lengthAdjust="spacingAndGlyphs">495</text>
<line x1="170.30" y1="223.5" x2="170.30" y2="224.5" stroke="#444" stroke-width="0.5"/>
<text x="168.25" y="228.30" font-size="2.9" font-weight="bold" fill="#3a3a3a" textLength="4.1" lengthAdjust="spacingAndGlyphs">500</text>
<text x="138.75" y="233.56" font-size="3.65" font-weight="bold" text-anchor="middle" fill="#1a1a1a" stroke="#1a1a1a" stroke-width="0.06" textLength="28.4" lengthAdjust="spacingAndGlyphs">Wavelength(nm)</text>
<text transform="translate(96.70,195.30) rotate(-90)" font-size="3.7" font-weight="bold" text-anchor="middle" fill="#262626" stroke="#262626" stroke-width="0.05" textLength="31.4" lengthAdjust="spacingAndGlyphs">Intensity(arb. unit)</text>
<text x="105.00" y="176.00" font-size="5.3" font-weight="bold" fill="#2f78c0" stroke="#2f78c0" stroke-width="0.06">5%</text>
<text x="168.00" y="175.20" font-size="5.3" font-weight="bold" text-anchor="end" fill="#111" stroke="#111" stroke-width="0.08">Sn 3d</text>
<polygon points="199.21,223.4 199.21,223.00 199.46,222.96 199.71,222.91 199.97,222.85 200.22,222.79 200.47,222.71 200.72,222.61 200.98,222.50 201.23,222.37 201.48,222.22 201.74,222.04 201.99,221.83 202.24,221.58 202.50,221.31 202.75,220.99 203.00,220.63 203.25,220.23 203.51,219.78 203.76,219.28 204.01,218.73 204.27,218.13 204.52,217.48 204.77,216.79 205.03,216.05 205.28,215.27 205.53,214.46 205.78,213.62 206.04,212.76 206.29,211.90 206.54,211.04 206.80,210.19 207.05,209.37 207.30,208.59 207.56,207.86 207.81,207.21 208.06,206.64 208.31,206.16 208.57,205.79 208.82,205.54 209.07,205.42 209.33,205.42 209.58,205.54 209.83,205.79 210.09,206.16 210.34,206.64 210.59,207.21 210.84,207.86 211.10,208.59 211.35,209.37 211.60,210.19 211.86,211.04 212.11,211.90 212.36,212.76 212.62,213.62 212.87,214.46 213.12,215.27 213.37,216.05 213.63,216.79 213.88,217.48 214.13,218.13 214.39,218.73 214.64,219.28 214.89,219.78 215.15,220.23 215.40,220.63 215.65,220.99 215.90,221.31 216.16,221.58 216.41,221.83 216.66,222.04 216.92,222.22 217.17,222.37 217.42,222.50 217.68,222.61 217.93,222.71 218.18,222.79 218.43,222.85 218.69,222.91 218.94,222.96 219.19,223.00 219.19,223.4" fill="#ebdfac" fill-opacity="0.85"/>
<polyline points="199.21,223.00 199.46,222.96 199.71,222.91 199.97,222.85 200.22,222.79 200.47,222.71 200.72,222.61 200.98,222.50 201.23,222.37 201.48,222.22 201.74,222.04 201.99,221.83 202.24,221.58 202.50,221.31 202.75,220.99 203.00,220.63 203.25,220.23 203.51,219.78 203.76,219.28 204.01,218.73 204.27,218.13 204.52,217.48 204.77,216.79 205.03,216.05 205.28,215.27 205.53,214.46 205.78,213.62 206.04,212.76 206.29,211.90 206.54,211.04 206.80,210.19 207.05,209.37 207.30,208.59 207.56,207.86 207.81,207.21 208.06,206.64 208.31,206.16 208.57,205.79 208.82,205.54 209.07,205.42 209.33,205.42 209.58,205.54 209.83,205.79 210.09,206.16 210.34,206.64 210.59,207.21 210.84,207.86 211.10,208.59 211.35,209.37 211.60,210.19 211.86,211.04 212.11,211.90 212.36,212.76 212.62,213.62 212.87,214.46 213.12,215.27 213.37,216.05 213.63,216.79 213.88,217.48 214.13,218.13 214.39,218.73 214.64,219.28 214.89,219.78 215.15,220.23 215.40,220.63 215.65,220.99 215.90,221.31 216.16,221.58 216.41,221.83 216.66,222.04 216.92,222.22 217.17,222.37 217.42,222.50 217.68,222.61 217.93,222.71 218.18,222.79 218.43,222.85 218.69,222.91 218.94,222.96 219.19,223.00" fill="none" stroke="#d8c274" stroke-width="0.7"/>
<polygon points="229.63,223.4 229.63,223.00 229.85,222.95 230.07,222.90 230.30,222.83 230.52,222.76 230.74,222.68 230.96,222.58 231.18,222.46 231.41,222.33 231.63,222.19 231.85,222.02 232.07,221.83 232.29,221.62 232.52,221.38 232.74,221.12 232.96,220.83 233.18,220.52 233.40,220.17 233.63,219.80 233.85,219.40 234.07,218.97 234.29,218.52 234.51,218.05 234.74,217.55 234.96,217.04 235.18,216.51 235.40,215.98 235.62,215.44 235.85,214.91 236.07,214.38 236.29,213.87 236.51,213.39 236.73,212.93 236.96,212.51 237.18,212.13 237.40,211.80 237.62,211.53 237.84,211.32 238.07,211.18 238.29,211.11 238.51,211.11 238.73,211.18 238.96,211.32 239.18,211.53 239.40,211.80 239.62,212.13 239.84,212.51 240.07,212.93 240.29,213.39 240.51,213.87 240.73,214.38 240.95,214.91 241.18,215.44 241.40,215.98 241.62,216.51 241.84,217.04 242.06,217.55 242.29,218.05 242.51,218.52 242.73,218.97 242.95,219.40 243.17,219.80 243.40,220.17 243.62,220.52 243.84,220.83 244.06,221.12 244.28,221.38 244.51,221.62 244.73,221.83 244.95,222.02 245.17,222.19 245.39,222.33 245.62,222.46 245.84,222.58 246.06,222.68 246.28,222.76 246.50,222.83 246.73,222.90 246.95,222.95 247.17,223.00 247.17,223.4" fill="#b4cccd" fill-opacity="0.85"/>
<polyline points="229.63,223.00 229.85,222.95 230.07,222.90 230.30,222.83 230.52,222.76 230.74,222.68 230.96,222.58 231.18,222.46 231.41,222.33 231.63,222.19 231.85,222.02 232.07,221.83 232.29,221.62 232.52,221.38 232.74,221.12 232.96,220.83 233.18,220.52 233.40,220.17 233.63,219.80 233.85,219.40 234.07,218.97 234.29,218.52 234.51,218.05 234.74,217.55 234.96,217.04 235.18,216.51 235.40,215.98 235.62,215.44 235.85,214.91 236.07,214.38 236.29,213.87 236.51,213.39 236.73,212.93 236.96,212.51 237.18,212.13 237.40,211.80 237.62,211.53 237.84,211.32 238.07,211.18 238.29,211.11 238.51,211.11 238.73,211.18 238.96,211.32 239.18,211.53 239.40,211.80 239.62,212.13 239.84,212.51 240.07,212.93 240.29,213.39 240.51,213.87 240.73,214.38 240.95,214.91 241.18,215.44 241.40,215.98 241.62,216.51 241.84,217.04 242.06,217.55 242.29,218.05 242.51,218.52 242.73,218.97 242.95,219.40 243.17,219.80 243.40,220.17 243.62,220.52 243.84,220.83 244.06,221.12 244.28,221.38 244.51,221.62 244.73,221.83 244.95,222.02 245.17,222.19 245.39,222.33 245.62,222.46 245.84,222.58 246.06,222.68 246.28,222.76 246.50,222.83 246.73,222.90 246.95,222.95 247.17,223.00" fill="none" stroke="#5ec0c8" stroke-width="0.7"/>
<line x1="186.3" y1="168.1" x2="255.0" y2="168.1" stroke="#9a9a9a" stroke-width="1.2"/>
<line x1="255.0" y1="168.1" x2="255.0" y2="223.4" stroke="#9a9a9a" stroke-width="0.9"/>
<line x1="186.3" y1="167.6" x2="186.3" y2="224.20000000000002" stroke="#555" stroke-width="0.85"/>
<line x1="186.3" y1="223.4" x2="255.0" y2="223.4" stroke="#555" stroke-width="0.85"/>
<line x1="185.50" y1="217.90" x2="186.3" y2="217.90" stroke="#555" stroke-width="0.55"/>
<line x1="184.90" y1="212.40" x2="186.3" y2="212.40" stroke="#555" stroke-width="0.55"/>
<line x1="185.50" y1="206.90" x2="186.3" y2="206.90" stroke="#555" stroke-width="0.55"/>
<line x1="184.90" y1="201.40" x2="186.3" y2="201.40" stroke="#555" stroke-width="0.55"/>
<line x1="185.50" y1="195.90" x2="186.3" y2="195.90" stroke="#555" stroke-width="0.55"/>
<line x1="184.90" y1="190.40" x2="186.3" y2="190.40" stroke="#555" stroke-width="0.55"/>
<line x1="185.50" y1="184.90" x2="186.3" y2="184.90" stroke="#555" stroke-width="0.55"/>
<line x1="184.90" y1="179.40" x2="186.3" y2="179.40" stroke="#555" stroke-width="0.55"/>
<line x1="185.50" y1="173.90" x2="186.3" y2="173.90" stroke="#555" stroke-width="0.55"/>
<line x1="186.30" y1="223.4" x2="186.30" y2="224.4" stroke="#444" stroke-width="0.5"/>
<text x="184.25" y="228.20" font-size="2.9" font-weight="bold" fill="#3a3a3a" textLength="4.1" lengthAdjust="spacingAndGlyphs">480</text>
<line x1="203.48" y1="223.4" x2="203.48" y2="224.4" stroke="#444" stroke-width="0.5"/>
<text x="201.43" y="228.20" font-size="2.9" font-weight="bold" fill="#3a3a3a" textLength="4.1" lengthAdjust="spacingAndGlyphs">485</text>
<line x1="220.65" y1="223.4" x2="220.65" y2="224.4" stroke="#444" stroke-width="0.5"/>
<text x="218.60" y="228.20" font-size="2.9" font-weight="bold" fill="#3a3a3a" textLength="4.1" lengthAdjust="spacingAndGlyphs">490</text>
<line x1="237.82" y1="223.4" x2="237.82" y2="224.4" stroke="#444" stroke-width="0.5"/>
<text x="235.77" y="228.20" font-size="2.9" font-weight="bold" fill="#3a3a3a" textLength="4.1" lengthAdjust="spacingAndGlyphs">495</text>
<line x1="255.00" y1="223.4" x2="255.00" y2="224.4" stroke="#444" stroke-width="0.5"/>
<text x="252.95" y="228.20" font-size="2.9" font-weight="bold" fill="#3a3a3a" textLength="4.1" lengthAdjust="spacingAndGlyphs">500</text>
<text x="224.90" y="233.21" font-size="3.65" font-weight="bold" text-anchor="middle" fill="#1a1a1a" stroke="#1a1a1a" stroke-width="0.06" textLength="28.4" lengthAdjust="spacingAndGlyphs">Wavelength(nm)</text>
<text transform="translate(181.70,196.80) rotate(-90)" font-size="3.7" font-weight="bold" text-anchor="middle" fill="#262626" stroke="#262626" stroke-width="0.05" textLength="31.4" lengthAdjust="spacingAndGlyphs">Intensity(arb. unit)</text>
<text x="189.50" y="175.70" font-size="5.3" font-weight="bold" fill="#e02424" stroke="#e02424" stroke-width="0.06">15%</text>
<text x="252.50" y="175.20" font-size="5.3" font-weight="bold" text-anchor="end" fill="#111" stroke="#111" stroke-width="0.08">Sn 3d</text>
<path d="M299.60,113.50 L300.04,113.50 L300.49,113.50 L300.93,113.50 L301.37,113.50 L301.81,113.50 L302.26,113.50 L302.70,113.50 L303.14,113.50 L303.59,113.50 L304.03,113.50 L304.47,113.50 L304.91,113.50 L305.36,113.50 L305.80,113.50 L306.24,112.43" fill="none" stroke="#333333" stroke-width="2.0" stroke-linejoin="round" stroke-linecap="round"/>
<path d="M311.11,94.30 L311.56,93.13 L312.00,92.04 L312.44,91.01 L312.88,90.05 L313.33,89.14 L313.77,88.30 L314.21,87.50 L314.66,86.75 L315.10,86.04 L315.54,85.38 L315.98,84.75 L316.43,84.15 L316.87,83.59 L317.31,83.06 L317.75,82.56 L318.20,82.08 L318.64,81.63 L319.08,81.20 L319.53,80.79 L319.97,80.40 L320.41,80.03 L320.85,79.67 L321.30,79.34 L321.74,79.01 L322.18,78.70 L322.63,78.41 L323.07,78.13 L323.51,77.86 L323.95,77.60 L324.40,77.35 L324.84,77.11 L325.28,76.89 L325.73,76.67 L326.17,76.46 L326.61,76.25 L327.05,76.06 L327.50,75.87 L327.94,75.69 L328.38,75.51 L328.82,75.34 L329.27,75.18 L329.71,75.02 L330.15,74.87 L330.60,74.73 L331.04,74.58 L331.48,74.45 L331.92,74.32 L332.37,74.19 L332.81,74.06 L333.25,73.94 L333.70,73.83 L334.14,73.71 L334.58,73.60 L335.02,73.50 L335.47,73.39 L335.91,73.29 L336.35,73.19 L336.80,73.10 L337.24,73.01 L337.68,72.92 L338.12,72.83 L338.57,72.75 L339.01,72.66 L339.45,72.58 L339.89,72.51 L340.34,72.43 L340.78,72.36 L341.22,72.28 L341.67,72.21 L342.11,72.14 L342.55,72.08 L342.99,72.01 L343.44,71.95 L343.88,71.89 L344.32,71.83 L344.77,71.77 L345.21,71.71 L345.65,71.65 L346.09,71.60 L346.54,71.54 L346.98,71.49 L347.42,71.44 L347.87,71.39 L348.31,71.34 L348.75,71.29 L349.19,71.24 L349.64,71.20 L350.08,71.15 L350.52,71.11 L350.96,71.06 L351.41,71.02 L351.85,70.98 L352.29,70.94 L352.74,70.90 L353.18,70.86 L353.62,70.82 L354.06,70.78 L354.51,70.75 L354.95,70.71 L355.39,70.67 L355.84,70.64 L356.28,70.60 L356.72,70.57 L357.16,70.54 L357.61,70.51 L358.05,70.47 L358.49,70.44 L358.94,70.41 L359.38,70.38 L359.82,70.35 L360.26,70.32 L360.71,70.30 L361.15,70.27 L361.59,70.24 L362.03,70.21 L362.48,70.19 L362.92,70.16 L363.36,70.13 L363.81,70.11 L364.25,70.08 L364.69,70.06 L365.13,70.04 L365.58,70.01 L366.02,69.99 L366.46,69.97 L366.91,69.94 L367.35,69.92 L367.79,69.90 L368.23,69.88 L368.68,69.86 L369.12,69.84 L369.56,69.82 L370.01,69.79 L370.45,69.77 L370.89,69.76 L371.33,69.74 L371.78,69.72 L372.22,69.70 L372.66,69.68 L373.10,69.66 L373.55,69.64 L373.99,69.63 L374.43,69.61 L374.88,69.59 L375.32,69.57 L375.76,69.56 L376.20,69.54 L376.65,69.52 L377.09,69.51 L377.53,69.49 L377.98,69.48 L378.42,69.46 L378.86,69.45 L379.30,69.43 L379.75,69.42 L380.19,69.40 L380.63,69.39 L381.08,69.37 L381.52,69.36 L381.96,69.35 L382.40,69.33 L382.85,69.32 L383.29,69.31 L383.73,69.29 L384.17,69.28 L384.62,69.27 L385.06,69.25 L385.50,69.24 L385.95,69.23 L386.39,69.22 L386.83,69.21 L387.27,69.19 L387.72,69.18 L388.16,69.17 L388.60,69.16 L389.05,69.15 L389.49,69.14 L389.93,69.13 L390.37,69.11 L390.82,69.10 L391.26,69.09 L391.70,69.08 L392.15,69.07 L392.59,69.06 L393.03,69.05 L393.47,69.04 L393.92,69.03 L394.36,69.02 L394.80,69.01 L395.24,69.00 L395.69,68.99 L396.13,68.98 L396.57,68.97 L397.02,68.96 L397.46,68.96 L397.90,68.95 L398.34,68.94 L398.79,68.93 L399.23,68.92 L399.67,68.91 L400.12,68.90 L400.56,68.89 L401.00,68.89 L401.44,68.88 L401.89,68.87 L402.33,68.86 L402.77,68.85 L403.22,68.85 L403.66,68.84 L404.10,68.83 L404.54,68.82 L404.99,68.81 L405.43,68.81 L405.87,68.80 L406.31,68.79 L406.76,68.79 L407.20,68.78 L407.64,68.77 L408.09,68.76 L408.53,68.76 L408.97,68.75 L409.41,68.74 L409.86,68.74 L410.30,68.73" fill="none" stroke="#333333" stroke-width="2.0" stroke-linejoin="round" stroke-linecap="round"/>
<g fill="#333333"><rect x="305.29" y="111.48" width="1.9" height="1.9"/><rect x="305.73" y="109.67" width="1.9" height="1.9"/><rect x="306.18" y="107.75" width="1.9" height="1.9"/><rect x="306.62" y="105.83" width="1.9" height="1.9"/><rect x="307.06" y="103.96" width="1.9" height="1.9"/><rect x="307.51" y="102.17" width="1.9" height="1.9"/><rect x="307.95" y="100.46" width="1.9" height="1.9"/><rect x="308.39" y="98.86" width="1.9" height="1.9"/><rect x="308.83" y="97.35" width="1.9" height="1.9"/><rect x="309.28" y="95.93" width="1.9" height="1.9"/><rect x="309.72" y="94.59" width="1.9" height="1.9"/><rect x="310.16" y="93.35" width="1.9" height="1.9"/></g>
<path d="M299.60,109.80 L300.04,109.80 L300.49,109.80 L300.93,109.80 L301.37,109.80 L301.81,109.80 L302.26,109.80 L302.70,109.80 L303.14,109.80 L303.59,109.80 L304.03,109.80 L304.47,109.80 L304.91,109.80 L305.36,109.80 L305.80,109.75 L306.24,109.03" fill="none" stroke="#1464dc" stroke-width="2.0" stroke-linejoin="round" stroke-linecap="round"/>
<path d="M312.44,78.42 L312.88,77.28 L313.33,76.22 L313.77,75.25 L314.21,74.35 L314.66,73.52 L315.10,72.74 L315.54,72.02 L315.98,71.34 L316.43,70.70 L316.87,70.10 L317.31,69.54 L317.75,69.01 L318.20,68.50 L318.64,68.02 L319.08,67.57 L319.53,67.14 L319.97,66.73 L320.41,66.33 L320.85,65.96 L321.30,65.60 L321.74,65.26 L322.18,64.93 L322.63,64.61 L323.07,64.31 L323.51,64.02 L323.95,63.74 L324.40,63.47 L324.84,63.21 L325.28,62.96 L325.73,62.71 L326.17,62.48 L326.61,62.25 L327.05,62.03 L327.50,61.82 L327.94,61.62 L328.38,61.42 L328.82,61.22 L329.27,61.03 L329.71,60.85 L330.15,60.67 L330.60,60.50 L331.04,60.33 L331.48,60.17 L331.92,60.01 L332.37,59.86 L332.81,59.71 L333.25,59.56 L333.70,59.42 L334.14,59.28 L334.58,59.14 L335.02,59.01 L335.47,58.88 L335.91,58.75 L336.35,58.62 L336.80,58.50 L337.24,58.38 L337.68,58.27 L338.12,58.15 L338.57,58.04 L339.01,57.93 L339.45,57.83 L339.89,57.72 L340.34,57.62 L340.78,57.52 L341.22,57.42 L341.67,57.32 L342.11,57.23 L342.55,57.13 L342.99,57.04 L343.44,56.95 L343.88,56.86 L344.32,56.78 L344.77,56.69 L345.21,56.61 L345.65,56.53 L346.09,56.45 L346.54,56.37 L346.98,56.29 L347.42,56.21 L347.87,56.14 L348.31,56.06 L348.75,55.99 L349.19,55.92 L349.64,55.85 L350.08,55.78 L350.52,55.71 L350.96,55.64 L351.41,55.58 L351.85,55.51 L352.29,55.45 L352.74,55.38 L353.18,55.32 L353.62,55.26 L354.06,55.20 L354.51,55.14 L354.95,55.08 L355.39,55.02 L355.84,54.96 L356.28,54.91 L356.72,54.85 L357.16,54.80 L357.61,54.74 L358.05,54.69 L358.49,54.64 L358.94,54.58 L359.38,54.53 L359.82,54.48 L360.26,54.43 L360.71,54.38 L361.15,54.33 L361.59,54.29 L362.03,54.24 L362.48,54.19 L362.92,54.14 L363.36,54.10 L363.81,54.05 L364.25,54.01 L364.69,53.96 L365.13,53.92 L365.58,53.88 L366.02,53.83 L366.46,53.79 L366.91,53.75 L367.35,53.71 L367.79,53.67 L368.23,53.63 L368.68,53.59 L369.12,53.55 L369.56,53.51 L370.01,53.47 L370.45,53.43 L370.89,53.39 L371.33,53.35 L371.78,53.32 L372.22,53.28 L372.66,53.24 L373.10,53.21 L373.55,53.17 L373.99,53.14 L374.43,53.10 L374.88,53.07 L375.32,53.03 L375.76,53.00 L376.20,52.97 L376.65,52.93 L377.09,52.90 L377.53,52.87 L377.98,52.84 L378.42,52.80 L378.86,52.77 L379.30,52.74 L379.75,52.71 L380.19,52.68 L380.63,52.65 L381.08,52.62 L381.52,52.59 L381.96,52.56 L382.40,52.53 L382.85,52.50 L383.29,52.47 L383.73,52.44 L384.17,52.41 L384.62,52.39 L385.06,52.36 L385.50,52.33 L385.95,52.30 L386.39,52.28 L386.83,52.25 L387.27,52.22 L387.72,52.20 L388.16,52.17 L388.60,52.14 L389.05,52.12 L389.49,52.09 L389.93,52.07 L390.37,52.04 L390.82,52.02 L391.26,51.99 L391.70,51.97 L392.15,51.94 L392.59,51.92 L393.03,51.90 L393.47,51.87 L393.92,51.85 L394.36,51.83 L394.80,51.80 L395.24,51.78 L395.69,51.76 L396.13,51.73 L396.57,51.71 L397.02,51.69 L397.46,51.67 L397.90,51.64 L398.34,51.62 L398.79,51.60 L399.23,51.58 L399.67,51.56 L400.12,51.54 L400.56,51.52 L401.00,51.50 L401.44,51.47 L401.89,51.45 L402.33,51.43 L402.77,51.41 L403.22,51.39 L403.66,51.37 L404.10,51.35 L404.54,51.33 L404.99,51.31 L405.43,51.29 L405.87,51.28 L406.31,51.26 L406.76,51.24 L407.20,51.22 L407.64,51.20 L408.09,51.18 L408.53,51.16 L408.97,51.14 L409.41,51.13 L409.86,51.11 L410.30,51.09" fill="none" stroke="#1464dc" stroke-width="2.0" stroke-linejoin="round" stroke-linecap="round"/>
<g fill="#1464dc"><path d="M306.24,107.83l1.1,1.9h-2.2z"/><path d="M306.68,106.12l1.1,1.9h-2.2z"/><path d="M307.13,103.60l1.1,1.9h-2.2z"/><path d="M307.57,100.63l1.1,1.9h-2.2z"/><path d="M308.01,97.54l1.1,1.9h-2.2z"/><path d="M308.46,94.55l1.1,1.9h-2.2z"/><path d="M308.90,91.77l1.1,1.9h-2.2z"/><path d="M309.34,89.23l1.1,1.9h-2.2z"/><path d="M309.78,86.94l1.1,1.9h-2.2z"/><path d="M310.23,84.89l1.1,1.9h-2.2z"/><path d="M310.67,83.03l1.1,1.9h-2.2z"/><path d="M311.11,81.36l1.1,1.9h-2.2z"/><path d="M311.56,79.85l1.1,1.9h-2.2z"/><path d="M312.00,78.48l1.1,1.9h-2.2z"/><path d="M312.44,77.22l1.1,1.9h-2.2z"/></g>
<path d="M299.60,106.30 L300.04,106.30 L300.49,106.30 L300.93,106.30 L301.37,106.30 L301.81,106.30 L302.26,106.30 L302.70,106.30 L303.14,106.30 L303.59,106.30 L304.03,106.30 L304.47,106.30 L304.91,106.30" fill="none" stroke="#ec1c24" stroke-width="2.0" stroke-linejoin="round" stroke-linecap="round"/>
<path d="M312.88,65.95 L313.33,64.73 L313.77,63.59 L314.21,62.53 L314.66,61.52 L315.10,60.57 L315.54,59.68 L315.98,58.83 L316.43,58.04 L316.87,57.28 L317.31,56.56 L317.75,55.88 L318.20,55.23 L318.64,54.61 L319.08,54.02 L319.53,53.45 L319.97,52.91 L320.41,52.40 L320.85,51.90 L321.30,51.43 L321.74,50.98 L322.18,50.54 L322.63,50.12 L323.07,49.72 L323.51,49.33 L323.95,48.96 L324.40,48.60 L324.84,48.25 L325.28,47.92 L325.73,47.59 L326.17,47.28 L326.61,46.98 L327.05,46.69 L327.50,46.40 L327.94,46.13 L328.38,45.86 L328.82,45.60 L329.27,45.35 L329.71,45.11 L330.15,44.87 L330.60,44.65 L331.04,44.42 L331.48,44.21 L331.92,44.00 L332.37,43.79 L332.81,43.59 L333.25,43.40 L333.70,43.21 L334.14,43.02 L334.58,42.84 L335.02,42.67 L335.47,42.50 L335.91,42.33 L336.35,42.16 L336.80,42.01 L337.24,41.85 L337.68,41.70 L338.12,41.55 L338.57,41.40 L339.01,41.26 L339.45,41.12 L339.89,40.99 L340.34,40.85 L340.78,40.72 L341.22,40.59 L341.67,40.47 L342.11,40.35 L342.55,40.23 L342.99,40.11 L343.44,39.99 L343.88,39.88 L344.32,39.77 L344.77,39.66 L345.21,39.55 L345.65,39.45 L346.09,39.35 L346.54,39.25 L346.98,39.15 L347.42,39.05 L347.87,38.95 L348.31,38.86 L348.75,38.77 L349.19,38.68 L349.64,38.59 L350.08,38.50 L350.52,38.41 L350.96,38.33 L351.41,38.24 L351.85,38.16 L352.29,38.08 L352.74,38.00 L353.18,37.92 L353.62,37.85 L354.06,37.77 L354.51,37.70 L354.95,37.62 L355.39,37.55 L355.84,37.48 L356.28,37.41 L356.72,37.34 L357.16,37.27 L357.61,37.21 L358.05,37.14 L358.49,37.07 L358.94,37.01 L359.38,36.95 L359.82,36.88 L360.26,36.82 L360.71,36.76 L361.15,36.70 L361.59,36.64 L362.03,36.58 L362.48,36.53 L362.92,36.47 L363.36,36.41 L363.81,36.36 L364.25,36.30 L364.69,36.25 L365.13,36.20 L365.58,36.15 L366.02,36.09 L366.46,36.04 L366.91,35.99 L367.35,35.94 L367.79,35.89 L368.23,35.84 L368.68,35.80 L369.12,35.75 L369.56,35.70 L370.01,35.66 L370.45,35.61 L370.89,35.56 L371.33,35.52 L371.78,35.48 L372.22,35.43 L372.66,35.39 L373.10,35.35 L373.55,35.30 L373.99,35.26 L374.43,35.22 L374.88,35.18 L375.32,35.14 L375.76,35.10 L376.20,35.06 L376.65,35.02 L377.09,34.98 L377.53,34.94 L377.98,34.91 L378.42,34.87 L378.86,34.83 L379.30,34.79 L379.75,34.76 L380.19,34.72 L380.63,34.69 L381.08,34.65 L381.52,34.62 L381.96,34.58 L382.40,34.55 L382.85,34.51 L383.29,34.48 L383.73,34.45 L384.17,34.42 L384.62,34.38 L385.06,34.35 L385.50,34.32 L385.95,34.29 L386.39,34.26 L386.83,34.23 L387.27,34.19 L387.72,34.16 L388.16,34.13 L388.60,34.10 L389.05,34.07 L389.49,34.05 L389.93,34.02 L390.37,33.99 L390.82,33.96 L391.26,33.93 L391.70,33.90 L392.15,33.88 L392.59,33.85 L393.03,33.82 L393.47,33.79 L393.92,33.77 L394.36,33.74 L394.80,33.71 L395.24,33.69 L395.69,33.66 L396.13,33.64 L396.57,33.61 L397.02,33.59 L397.46,33.56 L397.90,33.54 L398.34,33.51 L398.79,33.49 L399.23,33.46 L399.67,33.44 L400.12,33.42 L400.56,33.39 L401.00,33.37 L401.44,33.35 L401.89,33.32 L402.33,33.30 L402.77,33.28 L403.22,33.26 L403.66,33.23 L404.10,33.21 L404.54,33.19 L404.99,33.17 L405.43,33.15 L405.87,33.13 L406.31,33.10 L406.76,33.08 L407.20,33.06 L407.64,33.04 L408.09,33.02 L408.53,33.00 L408.97,32.98 L409.41,32.96 L409.86,32.94 L410.30,32.92" fill="none" stroke="#ec1c24" stroke-width="2.0" stroke-linejoin="round" stroke-linecap="round"/>
<g fill="#ec1c24"><circle cx="304.91" cy="106.30" r="0.95"/><circle cx="305.36" cy="104.99" r="0.95"/><circle cx="305.80" cy="102.32" r="0.95"/><circle cx="306.24" cy="99.22" r="0.95"/><circle cx="306.68" cy="96.01" r="0.95"/><circle cx="307.13" cy="92.85" r="0.95"/><circle cx="307.57" cy="89.82" r="0.95"/><circle cx="308.01" cy="86.95" r="0.95"/><circle cx="308.46" cy="84.26" r="0.95"/><circle cx="308.90" cy="81.76" r="0.95"/><circle cx="309.34" cy="79.44" r="0.95"/><circle cx="309.78" cy="77.29" r="0.95"/><circle cx="310.23" cy="75.29" r="0.95"/><circle cx="310.67" cy="73.44" r="0.95"/><circle cx="311.11" cy="71.72" r="0.95"/><circle cx="311.56" cy="70.12" r="0.95"/><circle cx="312.00" cy="68.63" r="0.95"/><circle cx="312.44" cy="67.24" r="0.95"/><circle cx="312.88" cy="65.95" r="0.95"/></g>
<rect x="299.6" y="29.2" width="110.70" height="90.00" fill="none" stroke="#1a1a1a" stroke-width="0.8"/>
<line x1="298.0" y1="119.20" x2="299.6" y2="119.20" stroke="#111" stroke-width="0.6"/>
<text x="296.30" y="120.55" font-size="3.75" font-weight="bold" text-anchor="end" fill="#111" stroke="#111" stroke-width="0.12">1.00E-09</text>
<line x1="298.70000000000005" y1="112.77" x2="299.6" y2="112.77" stroke="#111" stroke-width="0.5"/>
<line x1="298.0" y1="106.34" x2="299.6" y2="106.34" stroke="#111" stroke-width="0.6"/>
<text x="296.30" y="107.69" font-size="3.75" font-weight="bold" text-anchor="end" fill="#111" stroke="#111" stroke-width="0.12">2.00E-09</text>
<line x1="298.70000000000005" y1="99.91" x2="299.6" y2="99.91" stroke="#111" stroke-width="0.5"/>
<line x1="298.0" y1="93.49" x2="299.6" y2="93.49" stroke="#111" stroke-width="0.6"/>
<text x="296.30" y="94.84" font-size="3.75" font-weight="bold" text-anchor="end" fill="#111" stroke="#111" stroke-width="0.12">3.00E-09</text>
<line x1="298.70000000000005" y1="87.06" x2="299.6" y2="87.06" stroke="#111" stroke-width="0.5"/>
<line x1="298.0" y1="80.63" x2="299.6" y2="80.63" stroke="#111" stroke-width="0.6"/>
<text x="296.30" y="81.98" font-size="3.75" font-weight="bold" text-anchor="end" fill="#111" stroke="#111" stroke-width="0.12">4.00E-09</text>
<line x1="298.70000000000005" y1="74.20" x2="299.6" y2="74.20" stroke="#111" stroke-width="0.5"/>
<line x1="298.0" y1="67.77" x2="299.6" y2="67.77" stroke="#111" stroke-width="0.6"/>
<text x="296.30" y="69.12" font-size="3.75" font-weight="bold" text-anchor="end" fill="#111" stroke="#111" stroke-width="0.12">5.00E-09</text>
<line x1="298.70000000000005" y1="61.34" x2="299.6" y2="61.34" stroke="#111" stroke-width="0.5"/>
<line x1="298.0" y1="54.91" x2="299.6" y2="54.91" stroke="#111" stroke-width="0.6"/>
<text x="296.30" y="56.26" font-size="3.75" font-weight="bold" text-anchor="end" fill="#111" stroke="#111" stroke-width="0.12">6.00E-09</text>
<line x1="298.70000000000005" y1="48.49" x2="299.6" y2="48.49" stroke="#111" stroke-width="0.5"/>
<line x1="298.0" y1="42.06" x2="299.6" y2="42.06" stroke="#111" stroke-width="0.6"/>
<text x="296.30" y="43.41" font-size="3.75" font-weight="bold" text-anchor="end" fill="#111" stroke="#111" stroke-width="0.12">7.00E-09</text>
<line x1="298.70000000000005" y1="35.63" x2="299.6" y2="35.63" stroke="#111" stroke-width="0.5"/>
<line x1="298.0" y1="29.20" x2="299.6" y2="29.20" stroke="#111" stroke-width="0.6"/>
<text x="296.30" y="30.55" font-size="3.75" font-weight="bold" text-anchor="end" fill="#111" stroke="#111" stroke-width="0.12">8.00E-09</text>
<line x1="299.60" y1="119.2" x2="299.60" y2="120.60000000000001" stroke="#111" stroke-width="0.6"/>
<text x="299.60" y="124.80" font-size="3.6" font-weight="bold" text-anchor="middle" fill="#111" stroke="#111" stroke-width="0.1">0</text>
<line x1="313.44" y1="119.2" x2="313.44" y2="120.10000000000001" stroke="#111" stroke-width="0.5"/>
<line x1="327.28" y1="119.2" x2="327.28" y2="120.60000000000001" stroke="#111" stroke-width="0.6"/>
<text x="327.28" y="124.80" font-size="3.6" font-weight="bold" text-anchor="middle" fill="#111" stroke="#111" stroke-width="0.1">5</text>
<line x1="341.11" y1="119.2" x2="341.11" y2="120.10000000000001" stroke="#111" stroke-width="0.5"/>
<line x1="354.95" y1="119.2" x2="354.95" y2="120.60000000000001" stroke="#111" stroke-width="0.6"/>
<text x="354.95" y="124.80" font-size="3.6" font-weight="bold" text-anchor="middle" fill="#111" stroke="#111" stroke-width="0.1">10</text>
<line x1="368.79" y1="119.2" x2="368.79" y2="120.10000000000001" stroke="#111" stroke-width="0.5"/>
<line x1="382.62" y1="119.2" x2="382.62" y2="120.60000000000001" stroke="#111" stroke-width="0.6"/>
<text x="382.62" y="124.80" font-size="3.6" font-weight="bold" text-anchor="middle" fill="#111" stroke="#111" stroke-width="0.1">15</text>
<line x1="396.46" y1="119.2" x2="396.46" y2="120.10000000000001" stroke="#111" stroke-width="0.5"/>
<line x1="410.30" y1="119.2" x2="410.30" y2="120.60000000000001" stroke="#111" stroke-width="0.6"/>
<text x="410.30" y="124.80" font-size="3.6" font-weight="bold" text-anchor="middle" fill="#111" stroke="#111" stroke-width="0.1">20</text>
<text x="363.6" y="136.8" font-size="5.6" font-weight="bold" text-anchor="middle" fill="#111" stroke="#111" stroke-width="0.18">Voltage (V)</text>
<text transform="translate(276.9,71.2) rotate(-90)" font-size="5.35" font-weight="bold" text-anchor="middle" fill="#111" stroke="#111" stroke-width="0.18">Capacitance (F)</text>
<line x1="418.4" y1="44.0" x2="434.5" y2="44.0" stroke="#f7b0b2" stroke-width="0.8"/>
<circle cx="426.4" cy="44.0" r="1.85" fill="#ec1c24"/>
<text x="436.4" y="45.6" font-size="4.3" font-weight="bold" fill="#e8202a" stroke="#e8202a" stroke-width="0.15">15%</text>
<line x1="418.4" y1="52.0" x2="434.5" y2="52.0" stroke="#a8c4ee" stroke-width="0.8"/>
<polygon points="426.4,50.0 428.3,53.4 424.5,53.4" fill="#1464dc"/>
<text x="436.4" y="53.6" font-size="4.3" font-weight="bold" fill="#2a7fd0" stroke="#2a7fd0" stroke-width="0.15">5%</text>
<line x1="418.4" y1="59.9" x2="434.5" y2="59.9" stroke="#c0c0c0" stroke-width="0.8"/>
<rect x="424.9" y="58.4" width="3.0" height="3.0" fill="#303030"/>
<text x="436.4" y="61.5" font-size="4.3" font-weight="bold" fill="#505050" stroke="#505050" stroke-width="0.15">0%</text>
<defs>
<radialGradient id="g1" cx="0.5" cy="0.5" r="0.5">
 <stop offset="0" stop-color="#c8c8c8" stop-opacity="0.95"/>
 <stop offset="0.2" stop-color="#8a8a8a" stop-opacity="0.6"/>
 <stop offset="0.5" stop-color="#4a4a4a" stop-opacity="0.3"/>
 <stop offset="1" stop-color="#222" stop-opacity="0"/>
</radialGradient>
<radialGradient id="g2" cx="0.5" cy="0.5" r="0.5">
 <stop offset="0" stop-color="#555" stop-opacity="0.5"/>
 <stop offset="0.5" stop-color="#444" stop-opacity="0.35"/>
 <stop offset="1" stop-color="#333" stop-opacity="0"/>
</radialGradient>
<radialGradient id="bg2" cx="0.48" cy="0.47" r="0.7">
 <stop offset="0" stop-color="#2a2a2a"/>
 <stop offset="1" stop-color="#1a1a1a"/>
</radialGradient>
<filter id="blur05" x="-50%" y="-50%" width="200%" height="200%"><feGaussianBlur stdDeviation="0.45"/></filter>
<filter id="blur1" x="-50%" y="-50%" width="200%" height="200%"><feGaussianBlur stdDeviation="0.8"/></filter>
</defs>
<defs><radialGradient id="rg1" gradientUnits="userSpaceOnUse" cx="304.2" cy="180.35" r="60"><stop offset="0.0000" stop-color="rgb(150,150,150)"/><stop offset="0.0500" stop-color="rgb(205,205,205)"/><stop offset="0.0617" stop-color="rgb(185,185,185)"/><stop offset="0.0750" stop-color="rgb(115,115,115)"/><stop offset="0.1000" stop-color="rgb(76,76,76)"/><stop offset="0.1333" stop-color="rgb(60,60,60)"/><stop offset="0.1667" stop-color="rgb(50,50,50)"/><stop offset="0.2000" stop-color="rgb(43,43,43)"/><stop offset="0.2333" stop-color="rgb(39,39,39)"/><stop offset="0.2667" stop-color="rgb(37,37,37)"/><stop offset="0.2917" stop-color="rgb(35,35,35)"/><stop offset="0.3167" stop-color="rgb(29,29,29)"/><stop offset="0.3667" stop-color="rgb(22,22,22)"/><stop offset="0.4667" stop-color="rgb(17,17,17)"/><stop offset="0.6667" stop-color="rgb(14,14,14)"/><stop offset="1.0000" stop-color="rgb(12,12,12)"/></radialGradient></defs>
<rect x="263.8" y="141.2" width="82.70" height="83.40" fill="url(#rg1)"/>
<g filter="url(#blur05)"><circle cx="306.50" cy="162.60" r="0.8" fill="rgb(150,150,150)" fill-opacity="0.85"/><circle cx="316.40" cy="162.60" r="0.8" fill="rgb(76,76,76)" fill-opacity="0.48"/><circle cx="290.60" cy="171.50" r="0.8" fill="rgb(120,120,120)" fill-opacity="0.70"/><circle cx="300.50" cy="171.50" r="0.8" fill="rgb(130,130,130)" fill-opacity="0.75"/><circle cx="310.30" cy="171.50" r="0.8" fill="rgb(130,130,130)" fill-opacity="0.75"/><circle cx="320.20" cy="171.50" r="0.8" fill="rgb(140,140,140)" fill-opacity="0.80"/><circle cx="294.80" cy="180.30" r="0.8" fill="rgb(160,160,160)" fill-opacity="0.90"/><circle cx="314.50" cy="180.30" r="0.8" fill="rgb(150,150,150)" fill-opacity="0.85"/><circle cx="324.40" cy="180.30" r="0.8" fill="rgb(76,76,76)" fill-opacity="0.48"/><circle cx="278.50" cy="188.80" r="0.8" fill="rgb(80,80,80)" fill-opacity="0.50"/><circle cx="288.70" cy="189.00" r="0.8" fill="rgb(190,190,190)" fill-opacity="1.00"/><circle cx="298.90" cy="189.00" r="0.8" fill="rgb(130,130,130)" fill-opacity="0.75"/><circle cx="308.80" cy="189.00" r="0.8" fill="rgb(130,130,130)" fill-opacity="0.75"/><circle cx="318.50" cy="189.00" r="0.8" fill="rgb(130,130,130)" fill-opacity="0.75"/><circle cx="328.30" cy="189.00" r="0.8" fill="rgb(80,80,80)" fill-opacity="0.50"/><circle cx="293.10" cy="198.00" r="0.8" fill="rgb(120,120,120)" fill-opacity="0.70"/><circle cx="302.90" cy="198.00" r="0.8" fill="rgb(160,160,160)" fill-opacity="0.90"/><circle cx="312.80" cy="198.00" r="0.8" fill="rgb(84,84,84)" fill-opacity="0.52"/><circle cx="322.70" cy="198.00" r="0.8" fill="rgb(84,84,84)" fill-opacity="0.52"/><circle cx="287.40" cy="206.90" r="0.8" fill="rgb(80,80,80)" fill-opacity="0.50"/><circle cx="316.60" cy="206.90" r="0.8" fill="rgb(80,80,80)" fill-opacity="0.50"/></g>
<clipPath id="c1"><rect x="263.8" y="141.2" width="82.70" height="83.40"/></clipPath>
<defs><linearGradient id="lg1" gradientUnits="userSpaceOnUse" x1="304.2" y1="180.35" x2="346.5" y2="191.94"><stop offset="0" stop-color="#000" stop-opacity="1"/><stop offset="0.5" stop-color="#000" stop-opacity="0.8"/><stop offset="0.75" stop-color="#000" stop-opacity="0.3"/><stop offset="1" stop-color="#000" stop-opacity="0.1"/></linearGradient></defs>
<path d="M304.2,180.35 Q324.20,185.35 346.5,191.94" fill="none" stroke="url(#lg1)" stroke-width="1.0" clip-path="url(#c1)"/>
<circle cx="304.2" cy="180.35" r="3.4" fill="#dcdcdc" filter="url(#blur05)"/>
<circle cx="304.2" cy="180.35" r="2.65" fill="#000"/>
<text x="265.90" y="147.40" font-size="4.7" font-weight="bold" fill="#ddd" textLength="13.0" lengthAdjust="spacingAndGlyphs">(c) 0%</text>
<text x="268.80" y="218.20" font-size="3.9" fill="#ddd" textLength="14.2" lengthAdjust="spacingAndGlyphs">5 1/nm</text>
<line x1="268.80" y1="219.40" x2="281.50" y2="219.40" stroke="#ddd" stroke-width="0.8"/>
<defs><radialGradient id="rg2" gradientUnits="userSpaceOnUse" cx="393.2" cy="180.4" r="60"><stop offset="0.0000" stop-color="rgb(150,150,150)"/><stop offset="0.0500" stop-color="rgb(230,230,230)"/><stop offset="0.0650" stop-color="rgb(225,225,225)"/><stop offset="0.0767" stop-color="rgb(150,150,150)"/><stop offset="0.0883" stop-color="rgb(100,100,100)"/><stop offset="0.1033" stop-color="rgb(115,115,115)"/><stop offset="0.1233" stop-color="rgb(152,152,152)"/><stop offset="0.1417" stop-color="rgb(126,126,126)"/><stop offset="0.1600" stop-color="rgb(106,106,106)"/><stop offset="0.1833" stop-color="rgb(118,118,118)"/><stop offset="0.2083" stop-color="rgb(98,98,98)"/><stop offset="0.2333" stop-color="rgb(90,90,90)"/><stop offset="0.2617" stop-color="rgb(72,72,72)"/><stop offset="0.2917" stop-color="rgb(66,66,66)"/><stop offset="0.3250" stop-color="rgb(52,52,52)"/><stop offset="0.3833" stop-color="rgb(41,41,41)"/><stop offset="0.5000" stop-color="rgb(33,33,33)"/><stop offset="0.6667" stop-color="rgb(28,28,28)"/><stop offset="1.0000" stop-color="rgb(24,24,24)"/></radialGradient></defs>
<rect x="353.3" y="141.2" width="82.70" height="83.40" fill="url(#rg2)"/>
<clipPath id="c2"><rect x="353.3" y="141.2" width="82.70" height="83.40"/></clipPath>
<defs><linearGradient id="lg2" gradientUnits="userSpaceOnUse" x1="393.2" y1="180.4" x2="436.0" y2="192.81"><stop offset="0" stop-color="#000" stop-opacity="1"/><stop offset="0.6" stop-color="#000" stop-opacity="0.9"/><stop offset="1" stop-color="#000" stop-opacity="0.6"/></linearGradient></defs>
<line x1="393.2" y1="180.4" x2="436.0" y2="192.81" stroke="url(#lg2)" stroke-width="0.9" clip-path="url(#c2)"/>
<circle cx="393.2" cy="180.4" r="3.9" fill="#e8e8e8" filter="url(#blur05)"/>
<circle cx="393.2" cy="180.4" r="2.75" fill="#000"/>
<text x="354.30" y="147.60" font-size="4.7" font-weight="bold" fill="#ddd" textLength="15.8" lengthAdjust="spacingAndGlyphs">(d) 15%</text>
<text x="358.30" y="218.20" font-size="3.9" fill="#ddd" textLength="14.2" lengthAdjust="spacingAndGlyphs">5 1/nm</text>
<line x1="358.30" y1="219.40" x2="371.00" y2="219.40" stroke="#ddd" stroke-width="0.8"/>
</svg></body></html>
